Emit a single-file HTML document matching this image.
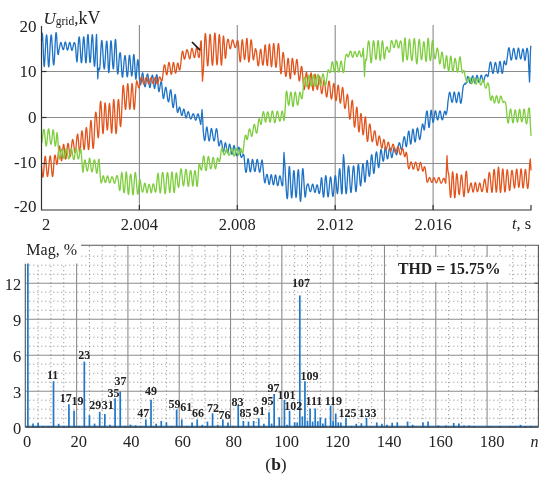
<!DOCTYPE html>
<html><head><meta charset="utf-8"><title>Ugrid and harmonic spectrum</title>
<style>html,body{margin:0;padding:0;background:#fff;}body{width:550px;height:481px;overflow:hidden;}svg{display:block;}</style>
</head><body>
<svg width="550" height="481" viewBox="0 0 550 481">
<rect width="550" height="481" fill="#fff"/>
<g stroke="#8c8c8c" stroke-width="1.1" fill="none"><line x1="41.5" y1="71.5" x2="531.0" y2="71.5"/><line x1="41.5" y1="117.5" x2="531.0" y2="117.5"/><line x1="41.5" y1="163.5" x2="531.0" y2="163.5"/><line x1="139.40" y1="25" x2="139.40" y2="210"/><line x1="237.30" y1="25" x2="237.30" y2="210"/><line x1="335.20" y1="25" x2="335.20" y2="210"/><line x1="433.10" y1="25" x2="433.10" y2="210"/></g>
<polyline fill="none" stroke="#1d72c6" stroke-width="1.3" stroke-linejoin="round" points="41.50,40.87 41.75,36.67 42.00,33.99 42.25,33.24 42.50,34.65 42.75,38.21 43.00,43.57 43.25,50.01 43.50,56.54 43.75,62.08 44.00,65.63 44.25,66.65 44.50,65.17 44.75,61.73 45.00,57.09 45.25,52.02 45.50,47.10 45.75,42.68 46.00,39.01 46.25,36.34 46.50,34.96 46.75,35.23 47.00,37.37 47.25,41.36 47.50,46.79 47.75,52.91 48.00,58.75 48.25,63.38 48.50,66.16 48.75,66.80 49.00,65.37 49.25,62.27 49.50,58.04 49.75,53.25 50.00,48.41 50.25,43.88 50.50,39.96 50.75,37.00 51.00,35.29 51.25,35.00 51.50,36.16 51.75,38.67 52.00,42.30 52.25,46.68 52.50,51.37 52.75,55.88 53.00,59.76 53.25,62.73 53.50,64.55 53.75,65.00 54.00,63.97 54.25,61.44 54.50,57.58 54.75,52.72 55.00,47.36 55.25,42.09 55.50,37.55 55.75,34.28 56.00,32.63 56.25,32.76 56.50,34.58 56.75,37.80 57.00,42.01 57.25,46.62 57.50,50.41 57.75,53.08 58.00,54.48 58.25,54.58 58.50,53.55 58.75,51.72 59.00,49.49 59.25,48.69 59.50,47.60 59.75,46.32 60.00,45.01 60.25,43.82 60.50,42.93 60.75,42.47 61.00,42.49 61.25,42.96 61.50,43.78 61.75,44.82 62.00,45.95 62.25,47.06 62.50,48.05 62.75,48.86 63.00,49.41 63.25,49.63 63.50,49.43 63.75,48.76 64.00,47.66 64.25,46.24 64.50,44.74 64.75,43.42 65.00,42.47 65.25,42.03 65.50,42.16 65.75,42.80 66.00,43.87 66.25,45.20 66.50,46.63 66.75,47.99 67.00,49.10 67.25,49.83 67.50,50.06 67.75,49.78 68.00,49.06 68.25,48.00 68.50,46.75 68.75,45.46 69.00,44.28 69.25,43.32 69.50,42.68 69.75,42.42 70.00,42.61 70.25,43.26 70.50,44.32 70.75,45.68 71.00,47.14 71.25,48.51 71.50,49.59 71.75,50.22 72.00,50.34 72.25,49.97 72.50,49.19 72.75,48.14 73.00,46.95 73.25,45.74 73.50,44.61 73.75,43.66 74.00,42.97 74.25,42.61 74.50,42.64 74.75,43.04 75.00,43.79 75.25,44.76 75.50,46.68 75.75,49.47 76.00,52.82 76.25,56.28 76.50,59.29 76.75,61.31 77.00,61.96 77.25,59.69 77.50,56.45 77.75,52.63 78.00,48.61 78.25,44.76 78.50,41.39 78.75,38.81 79.00,37.27 79.25,36.98 79.50,38.02 79.75,40.40 80.00,43.91 80.25,48.19 80.50,52.73 80.75,56.96 81.00,60.30 81.25,62.32 81.50,62.79 81.75,61.65 82.00,59.10 82.25,55.46 82.50,51.20 82.75,46.79 83.00,42.72 83.25,39.45 83.50,37.40 83.75,36.83 84.00,37.86 84.25,40.40 84.50,44.14 84.75,48.62 85.00,53.25 85.25,57.40 85.50,60.60 85.75,62.53 86.00,62.86 86.25,61.37 86.50,58.05 86.75,53.25 87.00,47.62 87.25,42.09 87.50,37.62 87.75,34.95 88.00,34.47 88.25,36.12 88.50,39.49 88.75,43.96 89.00,48.87 89.25,53.63 89.50,57.78 89.75,60.86 90.00,62.47 90.25,62.38 90.50,60.54 90.75,57.15 91.00,52.61 91.25,47.55 91.50,42.71 91.75,38.71 92.00,35.93 92.25,34.68 92.50,35.20 92.75,37.58 93.00,41.64 93.25,46.93 93.50,52.72 93.75,58.18 94.00,62.55 94.25,65.36 94.50,66.29 94.75,65.28 95.00,62.47 95.25,58.23 95.50,53.03 95.75,47.48 96.00,42.17 96.25,37.67 96.50,34.51 96.75,38.93 97.00,48.96 97.25,59.83 97.50,70.06 97.75,78.75 98.00,75.17 98.25,70.90 98.50,68.74 98.75,68.12 99.00,68.11 99.25,69.80 99.50,69.88 99.75,68.43 100.00,65.69 100.25,61.46 100.50,56.72 100.75,51.93 101.00,47.49 101.25,43.85 101.50,41.41 101.75,40.45 102.00,41.03 102.25,43.03 102.50,46.20 102.75,50.18 103.00,54.56 103.25,58.95 103.50,62.96 103.75,66.20 104.00,68.28 104.25,68.97 104.50,68.20 104.75,66.07 105.00,62.81 105.25,58.80 105.50,54.45 105.75,50.23 106.00,46.54 106.25,43.62 106.50,41.71 106.75,41.14 107.00,42.24 107.25,45.16 107.50,49.77 107.75,55.54 108.00,61.63 108.25,67.01 108.50,70.84 108.75,72.60 109.00,72.08 109.25,69.48 109.50,65.28 109.75,60.10 110.00,54.59 110.25,49.33 110.50,44.86 110.75,41.86 111.00,40.76 111.25,41.64 111.50,44.26 111.75,48.13 112.00,52.67 112.25,57.34 112.50,61.65 112.75,65.21 113.00,67.72 113.25,68.87 113.50,68.39 113.75,66.17 114.00,62.33 114.25,57.31 114.50,51.81 114.75,46.68 115.00,42.65 115.25,40.13 115.50,39.42 115.75,40.62 116.00,43.63 116.25,48.80 116.50,54.73 116.75,60.75 117.00,66.17 117.25,70.42 117.50,73.10 117.75,74.04 118.00,73.32 118.25,71.20 118.50,68.09 118.75,64.45 119.00,60.75 119.25,57.43 119.50,54.85 119.75,53.25 120.00,52.79 120.25,52.76 120.50,53.98 120.75,56.39 121.00,59.77 121.25,63.78 121.50,67.98 121.75,71.87 122.00,74.95 122.25,76.77 122.50,77.14 122.75,76.13 123.00,74.02 123.25,71.20 123.50,68.08 123.75,64.97 124.00,62.07 124.25,59.52 124.50,57.48 124.75,56.11 125.00,55.60 125.25,56.09 125.50,57.65 125.75,60.22 126.00,63.57 126.25,67.30 126.50,70.93 126.75,73.93 127.00,75.98 127.25,76.81 127.50,76.34 127.75,74.61 128.00,71.84 128.25,68.35 128.50,64.56 128.75,60.90 129.00,57.85 129.25,55.87 129.50,55.26 129.75,56.05 130.00,58.07 130.25,60.98 130.50,64.34 130.75,67.78 131.00,70.93 131.25,73.52 131.50,75.32 131.75,76.07 132.00,75.54 132.25,73.61 132.50,70.41 132.75,66.34 133.00,62.08 133.25,58.38 133.50,55.74 133.75,54.51 134.00,54.89 134.25,56.90 134.50,60.32 134.75,64.73 135.00,69.47 135.25,73.85 135.50,77.19 135.75,79.00 136.00,79.04 136.25,77.41 136.50,74.41 136.75,70.52 137.00,66.27 137.25,63.10 137.50,60.75 137.75,59.67 138.00,60.03 138.25,61.76 138.50,64.56 138.75,68.02 139.00,71.75 139.25,75.36 139.50,78.58 139.75,81.22 140.00,83.18 140.25,84.37 140.50,84.78 140.75,84.42 141.00,83.43 141.25,81.35 141.50,78.98 141.75,76.66 142.00,74.71 142.25,73.39 142.50,72.83 142.75,73.08 143.00,74.07 143.25,75.63 143.50,77.58 143.75,79.71 144.00,81.82 144.25,83.73 144.50,85.28 144.75,86.31 145.00,86.71 145.25,86.47 145.50,85.61 145.75,84.21 146.00,82.43 146.25,80.44 146.50,78.45 146.75,76.65 147.00,75.21 147.25,74.27 147.50,73.91 147.75,74.20 148.00,75.14 148.25,76.67 148.50,78.67 148.75,80.91 149.00,83.18 149.25,85.19 149.50,86.69 149.75,87.48 150.00,87.48 150.25,86.75 150.50,85.44 150.75,83.74 151.00,81.87 151.25,80.01 151.50,78.30 151.75,76.85 152.00,75.77 152.25,75.18 152.50,75.20 152.75,75.93 153.00,77.39 153.25,79.47 153.50,81.92 153.75,84.38 154.00,86.47 154.25,87.90 154.50,88.51 154.75,88.23 155.00,87.09 155.25,85.27 155.50,83.00 155.75,80.56 156.00,78.25 156.25,76.34 156.50,75.08 156.75,74.61 157.00,75.03 157.25,76.64 157.50,78.96 157.75,81.77 158.00,84.73 158.25,87.52 158.50,89.77 158.75,91.17 159.00,91.60 159.25,91.13 159.50,89.96 159.75,88.36 160.00,86.61 160.25,84.92 160.50,83.46 160.75,82.37 161.00,81.77 161.25,81.80 161.50,82.57 161.75,84.13 162.00,86.41 162.25,89.19 162.50,92.15 162.75,94.90 163.00,97.08 163.25,98.26 163.50,98.53 163.75,97.95 164.00,96.72 164.25,95.06 164.50,93.22 164.75,91.41 165.00,89.76 165.25,88.42 165.50,87.56 165.75,87.29 166.00,87.66 166.25,88.64 166.50,90.11 166.75,91.96 167.00,93.99 167.25,96.04 167.50,97.93 167.75,99.55 168.00,100.82 168.25,101.64 168.50,101.89 168.75,101.49 169.00,100.39 169.25,98.68 169.50,96.55 169.75,94.30 170.00,92.28 170.25,90.75 170.50,89.89 170.75,89.81 171.00,90.55 171.25,92.07 171.50,94.23 171.75,96.85 172.00,99.65 172.25,102.38 172.50,104.73 172.75,106.49 173.00,107.46 173.25,107.54 173.50,106.75 173.75,105.18 174.00,103.02 174.25,100.55 174.50,98.09 174.75,95.97 175.00,94.51 175.25,94.51 175.50,95.50 175.75,97.34 176.00,99.78 176.25,102.53 176.50,105.29 176.75,107.84 177.00,109.97 177.25,111.48 177.50,112.27 177.75,112.36 178.00,111.87 178.25,111.00 178.50,109.98 178.75,109.03 179.00,108.33 179.25,107.48 179.50,107.13 179.75,107.33 180.00,108.03 180.25,109.12 180.50,110.44 180.75,111.82 181.00,113.11 181.25,114.19 181.50,114.99 181.75,115.42 182.00,115.41 182.25,114.91 182.50,113.96 182.75,112.70 183.00,111.36 183.25,110.20 183.50,109.39 183.75,109.05 184.00,109.23 184.25,109.91 184.50,111.01 184.75,112.40 185.00,113.92 185.25,115.37 185.50,116.59 185.75,117.47 186.00,117.91 186.25,117.90 186.50,117.46 186.75,116.65 187.00,115.60 187.25,114.44 187.50,113.34 187.75,112.45 188.00,111.89 188.25,111.75 188.50,112.04 188.75,112.68 189.00,113.58 189.25,114.62 189.50,115.70 189.75,116.73 190.00,117.66 190.25,118.34 190.50,118.78 190.75,118.96 191.00,118.85 191.25,118.47 191.50,117.88 191.75,117.14 192.00,116.32 192.25,115.52 192.50,114.81 192.75,114.25 193.00,113.89 193.25,113.78 193.50,113.93 193.75,114.38 194.00,115.09 194.25,116.01 194.50,117.04 194.75,118.07 195.00,118.97 195.25,119.64 195.50,120.04 195.75,120.11 196.00,119.84 196.25,119.24 196.50,118.38 196.75,117.35 197.00,116.27 197.25,115.27 197.50,114.47 197.75,113.96 198.00,113.81 198.25,114.04 198.50,114.65 198.75,115.60 199.00,116.76 199.25,118.02 199.50,119.22 199.75,120.19 200.00,120.76 200.25,122.50 200.50,123.73 200.75,124.45 201.00,122.24 201.25,119.12 201.50,115.93 201.75,112.78 202.00,109.68 202.25,112.84 202.50,116.34 202.75,120.58 203.00,126.06 203.25,131.11 203.50,133.30 203.75,135.60 204.00,137.67 204.25,139.28 204.50,140.27 204.75,140.50 205.00,139.90 205.25,138.48 205.50,136.40 205.75,133.91 206.00,131.37 206.25,129.17 206.50,127.64 206.75,127.00 207.00,127.28 207.25,128.39 207.50,130.13 207.75,132.23 208.00,134.46 208.25,136.60 208.50,138.46 208.75,139.88 209.00,140.72 209.25,140.87 209.50,140.33 209.75,139.14 210.00,137.42 210.25,135.38 210.50,133.24 210.75,131.26 211.00,129.69 211.25,128.75 211.50,128.53 211.75,129.02 212.00,130.09 212.25,131.59 212.50,133.30 212.75,135.07 213.00,136.76 213.25,138.27 213.50,139.51 213.75,140.42 214.00,140.91 214.25,140.87 214.50,140.25 214.75,139.04 215.00,137.33 215.25,135.29 215.50,133.19 215.75,131.31 216.00,129.84 216.25,128.91 216.50,128.63 216.75,129.06 217.00,130.19 217.25,131.95 217.50,134.17 217.75,136.62 218.00,139.03 218.25,141.80 218.50,143.95 218.75,145.34 219.00,145.94 219.25,145.83 219.50,145.13 219.75,144.05 220.00,142.82 220.25,141.69 220.50,140.86 220.75,140.52 221.00,140.79 221.25,140.78 221.50,141.43 221.75,142.68 222.00,144.39 222.25,146.38 222.50,148.39 222.75,150.17 223.00,151.48 223.25,152.14 223.50,152.08 223.75,151.33 224.00,150.02 224.25,148.37 224.50,146.59 224.75,144.91 225.00,143.58 225.25,142.82 225.50,142.76 225.75,143.40 226.00,144.59 226.25,146.14 226.50,147.84 226.75,149.50 227.00,150.95 227.25,152.06 227.50,152.71 227.75,152.81 228.00,152.28 228.25,151.15 228.50,149.55 228.75,147.74 229.00,146.03 229.25,144.74 229.50,144.08 229.75,144.15 230.00,144.89 230.25,146.14 230.50,147.69 230.75,149.33 231.00,150.90 231.25,152.29 231.50,153.38 231.75,154.10 232.00,154.35 232.25,154.05 232.50,153.19 232.75,151.85 233.00,150.20 233.25,148.49 233.50,147.00 233.75,145.96 234.00,145.54 234.25,145.77 234.50,146.55 234.75,147.74 235.00,149.15 235.25,150.61 235.50,152.01 235.75,153.27 236.00,154.34 236.25,155.16 236.50,155.67 236.75,155.77 237.00,155.41 237.25,154.57 237.50,153.31 237.75,151.78 238.00,150.18 238.25,148.76 238.50,147.73 238.75,147.23 239.00,147.31 239.25,147.94 239.50,149.00 239.75,150.33 240.00,151.79 240.25,153.26 240.50,154.62 240.75,155.80 241.00,156.71 241.25,157.24 241.50,157.36 241.75,157.02 242.00,156.25 242.25,156.14 242.50,155.70 242.75,155.08 243.00,154.50 243.25,154.17 243.50,154.29 243.75,154.99 244.00,156.35 244.25,158.38 244.50,160.99 244.75,164.02 245.00,167.25 245.25,169.29 245.50,170.94 245.75,172.03 246.00,172.43 246.25,172.02 246.50,170.80 246.75,168.86 247.00,166.41 247.25,163.80 247.50,161.42 247.75,159.65 248.00,158.77 248.25,158.87 248.50,159.87 248.75,161.56 249.00,163.65 249.25,165.87 249.50,167.99 249.75,169.82 250.00,171.17 250.25,171.87 250.50,171.82 250.75,171.01 251.00,169.49 251.25,167.45 251.50,165.15 251.75,162.91 252.00,161.04 252.25,159.83 252.50,159.43 252.75,159.84 253.00,160.96 253.25,162.58 253.50,164.47 253.75,166.41 254.00,168.22 254.25,169.75 254.50,170.86 254.75,171.44 255.00,171.41 255.25,170.74 255.50,169.50 255.75,167.79 256.00,165.81 256.25,163.80 256.50,162.00 256.75,160.61 257.00,159.73 257.25,159.47 257.50,159.85 257.75,160.85 258.00,162.38 258.25,164.29 258.50,166.38 258.75,168.42 259.00,170.20 259.25,171.50 259.50,172.19 259.75,172.21 260.00,171.59 260.25,170.43 260.50,168.87 260.75,167.09 261.00,165.24 261.25,163.48 261.50,161.94 261.75,160.72 262.00,159.92 262.25,160.87 262.50,162.40 262.75,164.50 263.00,167.09 263.25,170.01 263.50,173.04 263.75,175.92 264.00,178.42 264.25,180.39 264.50,181.76 264.75,182.53 265.00,182.80 265.25,181.78 265.50,180.46 265.75,178.98 266.00,177.51 266.25,176.19 266.50,175.15 266.75,174.50 267.00,174.33 267.25,174.71 267.50,175.64 267.75,177.05 268.00,178.79 268.25,180.63 268.50,182.30 268.75,183.59 269.00,184.31 269.25,184.39 269.50,183.80 269.75,182.64 270.00,181.06 270.25,179.28 270.50,177.53 270.75,176.04 271.00,175.05 271.25,174.71 271.50,175.06 271.75,176.03 272.00,177.46 272.25,179.17 272.50,180.92 272.75,182.51 273.00,183.77 273.25,184.56 273.50,184.76 273.75,184.32 274.00,183.24 274.25,181.63 274.50,179.74 274.75,177.85 275.00,176.28 275.25,175.27 275.50,174.97 275.75,175.38 276.00,176.44 276.25,177.96 276.50,179.75 276.75,181.58 277.00,183.26 277.25,184.58 277.50,185.43 277.75,185.68 278.00,185.32 278.25,184.38 278.50,182.97 278.75,181.27 279.00,179.49 279.25,177.87 279.50,176.63 279.75,175.95 280.00,175.89 280.25,176.37 280.50,177.34 280.75,178.67 281.00,180.18 281.25,181.73 281.50,183.18 281.75,184.42 282.00,185.31 282.25,185.78 282.50,185.74 282.75,185.20 283.00,178.88 283.25,171.88 283.50,164.70 283.75,158.04 284.00,152.46 284.25,156.76 284.50,160.05 284.75,163.07 285.00,166.90 285.25,172.49 285.50,176.24 285.75,180.60 286.00,185.13 286.25,189.43 286.50,193.17 286.75,196.14 287.00,198.09 287.25,198.71 287.50,197.73 287.75,194.96 288.00,190.53 288.25,184.87 288.50,178.75 288.75,173.11 289.00,168.85 289.25,166.62 289.50,166.67 289.75,168.83 290.00,172.62 290.25,177.37 290.50,182.46 290.75,187.39 291.00,191.81 291.25,195.32 291.50,197.46 291.75,197.93 292.00,196.67 292.25,193.81 292.50,189.71 292.75,184.87 293.00,179.91 293.25,175.48 293.50,172.21 293.75,170.55 294.00,170.72 294.25,172.64 294.50,175.99 294.75,180.28 295.00,184.97 295.25,189.49 295.50,193.33 295.75,196.05 296.00,197.32 296.25,196.94 296.50,194.91 296.75,191.42 297.00,186.91 297.25,181.96 297.50,177.28 297.75,173.46 298.00,170.80 298.25,169.63 298.50,170.19 298.75,172.57 299.00,176.64 299.25,181.95 299.50,187.78 299.75,193.29 300.00,197.70 300.25,200.52 300.50,201.46 300.75,200.44 301.00,197.64 301.25,193.41 301.50,188.25 301.75,182.73 302.00,177.46 302.25,172.99 302.50,169.92 302.75,168.62 303.00,169.15 303.25,171.28 303.50,174.62 303.75,178.69 304.00,183.04 304.25,187.30 304.50,191.18 304.75,194.45 305.00,196.82 305.25,197.16 305.50,196.24 305.75,194.38 306.00,191.99 306.25,189.54 306.50,187.45 306.75,186.08 307.00,185.62 307.25,184.75 307.50,184.15 307.75,183.86 308.00,183.93 308.25,184.35 308.50,185.10 308.75,186.11 309.00,187.28 309.25,188.50 309.50,189.65 309.75,190.62 310.00,191.32 310.25,191.69 310.50,191.67 310.75,191.26 311.00,190.47 311.25,189.37 311.50,188.09 311.75,186.78 312.00,185.60 312.25,184.71 312.50,184.23 312.75,184.22 313.00,184.68 313.25,185.55 313.50,186.73 313.75,188.07 314.00,189.43 314.25,190.66 314.50,191.64 314.75,192.24 315.00,192.38 315.25,192.05 315.50,191.26 315.75,190.10 316.00,188.74 316.25,187.35 316.50,186.13 316.75,185.24 317.00,184.79 317.25,184.86 317.50,185.48 317.75,186.58 318.00,188.05 318.25,189.69 318.50,191.25 318.75,192.51 319.00,193.29 319.25,193.49 319.50,193.10 319.75,192.19 320.00,190.89 320.25,189.04 320.50,186.47 320.75,183.52 321.00,180.71 321.25,178.62 321.50,177.72 321.75,178.26 322.00,180.21 322.25,183.91 322.50,187.77 322.75,191.37 323.00,194.36 323.25,196.37 323.50,197.16 323.75,196.64 324.00,194.87 324.25,192.06 324.50,188.55 324.75,184.78 325.00,181.21 325.25,178.29 325.50,176.36 325.75,175.63 326.00,176.16 326.25,177.87 326.50,180.51 326.75,183.79 327.00,187.32 327.25,190.74 327.50,193.67 327.75,195.77 328.00,196.77 328.25,196.62 328.50,195.37 328.75,193.22 329.00,190.45 329.25,187.37 329.50,184.28 329.75,181.45 330.00,179.14 330.25,177.59 330.50,176.96 330.75,177.33 331.00,178.68 331.25,180.89 331.50,183.74 331.75,186.93 332.00,190.10 332.25,192.89 332.50,195.00 332.75,196.22 333.00,196.39 333.25,195.46 333.50,193.53 333.75,190.76 334.00,187.48 334.25,184.04 334.50,180.86 334.75,178.33 335.00,176.72 335.25,175.66 335.50,175.82 335.75,177.19 336.00,179.60 336.25,182.72 336.50,186.14 336.75,189.37 337.00,191.94 337.25,193.43 337.50,193.56 337.75,192.21 338.00,189.45 338.25,185.90 338.50,181.70 338.75,177.41 339.00,173.56 339.25,170.61 339.50,168.90 339.75,168.67 340.00,170.02 340.25,172.87 340.50,176.89 340.75,181.54 341.00,186.13 341.25,190.00 341.50,192.72 341.75,193.98 342.00,193.53 342.25,191.32 342.50,182.06 342.75,172.15 343.00,164.11 343.25,158.39 343.50,154.76 343.75,157.09 344.00,159.24 344.25,162.38 344.50,167.44 344.75,174.16 345.00,178.93 345.25,183.74 345.50,188.04 345.75,191.36 346.00,193.31 346.25,193.68 346.50,192.44 346.75,189.77 347.00,185.97 347.25,181.50 347.50,176.85 347.75,172.55 348.00,169.05 348.25,166.73 348.50,165.81 348.75,166.35 349.00,168.26 349.25,171.32 349.50,175.18 349.75,179.44 350.00,183.66 350.25,187.42 350.50,190.33 350.75,192.09 351.00,192.54 351.25,191.66 351.50,189.59 351.75,186.56 352.00,182.89 352.25,178.92 352.50,175.01 352.75,171.51 353.00,168.69 353.25,166.77 353.50,165.95 353.75,166.34 354.00,167.97 354.25,170.73 354.50,174.40 354.75,178.63 355.00,182.94 355.25,186.71 355.50,189.62 355.75,191.32 356.00,191.63 356.25,190.53 356.50,188.15 356.75,184.75 357.00,180.69 357.25,176.37 357.50,172.20 357.75,168.55 358.00,165.85 358.25,164.40 358.50,164.35 358.75,165.66 359.00,168.12 359.25,171.42 359.50,175.14 359.75,178.86 360.00,182.17 360.25,184.59 360.50,185.74 360.75,185.47 361.00,183.87 361.25,181.22 361.50,177.92 361.75,174.38 362.00,170.95 362.25,167.95 362.50,165.63 362.75,164.23 363.00,163.95 363.25,164.92 363.50,167.10 363.75,170.24 364.00,173.89 364.25,177.37 364.50,180.17 364.75,181.81 365.00,182.04 365.25,180.85 365.50,178.45 365.75,175.20 366.00,171.53 366.25,167.86 366.50,164.57 366.75,162.05 367.00,160.59 367.25,160.35 367.50,161.29 367.75,163.22 368.00,165.83 368.25,168.75 368.50,171.57 368.75,173.95 369.00,175.63 369.25,176.42 369.50,176.15 369.75,174.76 370.00,172.33 370.25,169.08 370.50,165.38 370.75,161.73 371.00,158.58 371.25,156.22 371.50,154.86 371.75,154.63 372.00,155.58 372.25,157.59 372.50,160.44 372.75,163.78 373.00,167.17 373.25,170.14 373.50,172.28 373.75,173.29 374.00,173.05 374.25,171.64 374.50,169.33 374.75,166.43 375.00,163.29 375.25,160.18 375.50,157.33 375.75,154.92 376.00,153.12 376.25,152.07 376.50,151.88 376.75,152.61 377.00,154.22 377.25,156.57 377.50,159.37 377.75,162.26 378.00,164.81 378.25,166.68 378.50,167.64 378.75,167.57 379.00,166.51 379.25,164.59 379.50,162.05 379.75,159.18 380.00,156.26 380.25,153.57 380.50,151.38 380.75,149.96 381.00,149.47 381.25,149.87 381.50,151.04 381.75,152.74 382.00,154.70 382.25,156.68 382.50,158.45 382.75,159.87 383.00,160.82 383.25,161.19 383.50,160.82 383.75,159.62 384.00,157.59 384.25,155.11 384.50,152.36 384.75,149.84 385.00,147.96 385.25,147.01 385.50,147.09 385.75,148.09 386.00,149.75 386.25,151.79 386.50,153.91 386.75,155.88 387.00,157.50 387.25,158.56 387.50,158.91 387.75,158.50 388.00,157.43 388.25,155.84 388.50,153.97 388.75,152.05 389.00,150.31 389.25,148.93 389.50,148.02 389.75,147.68 390.00,147.98 390.25,148.94 390.50,150.47 390.75,152.35 391.00,154.30 391.25,156.00 391.50,157.18 391.75,157.65 392.00,157.40 392.25,156.54 392.50,155.26 392.75,153.78 393.00,152.27 393.25,150.87 393.50,149.64 393.75,148.66 394.00,147.99 394.25,147.68 394.50,147.79 394.75,148.34 395.00,149.28 395.25,150.32 395.50,151.56 395.75,152.81 396.00,153.86 396.25,154.56 396.50,154.77 396.75,154.47 397.00,153.69 397.25,152.52 397.50,151.09 397.75,149.52 398.00,147.92 398.25,146.40 398.50,145.03 398.75,143.92 399.00,143.13 399.25,142.75 399.50,142.80 399.75,143.27 400.00,144.13 400.25,145.26 400.50,146.55 400.75,147.82 401.00,148.90 401.25,149.65 401.50,149.95 401.75,149.74 402.00,149.01 402.25,147.81 402.50,146.26 402.75,144.46 403.00,142.59 403.25,140.78 403.50,139.19 403.75,137.90 404.00,137.03 404.25,136.68 404.50,136.95 404.75,137.87 405.00,139.36 405.25,141.25 405.50,143.25 405.75,145.01 406.00,146.23 406.25,146.70 406.50,146.32 406.75,145.15 407.00,143.34 407.25,141.12 407.50,138.73 407.75,136.38 408.00,134.29 408.25,132.60 408.50,131.48 408.75,131.09 409.00,131.54 409.25,133.05 409.50,135.26 409.75,137.86 410.00,140.44 410.25,142.53 410.50,143.83 410.75,144.12 411.00,143.41 411.25,141.82 411.50,139.62 411.75,137.09 412.00,134.54 412.25,132.24 412.50,130.43 412.75,129.34 413.00,129.10 413.25,129.73 413.50,131.14 413.75,133.14 414.00,135.47 414.25,137.81 414.50,139.84 414.75,141.29 415.00,141.95 415.25,141.75 415.50,140.74 415.75,139.07 416.00,136.94 416.25,134.61 416.50,132.33 416.75,130.33 417.00,128.84 417.25,128.05 417.50,128.00 417.75,128.67 418.00,129.93 418.25,131.61 418.50,133.49 418.75,135.38 419.00,137.08 419.25,138.42 419.50,139.26 419.75,139.49 420.00,139.08 420.25,138.06 420.50,136.52 420.75,134.61 421.00,132.52 421.25,130.48 421.50,128.70 421.75,127.29 422.00,126.38 422.25,124.87 422.50,124.04 422.75,123.97 423.00,124.62 423.25,125.83 423.50,127.32 423.75,128.75 424.00,129.74 424.25,129.94 424.50,129.16 424.75,127.39 425.00,124.75 425.25,122.64 425.50,120.25 425.75,117.85 426.00,115.61 426.25,113.68 426.50,112.17 426.75,111.21 427.00,111.00 427.25,111.69 427.50,113.35 427.75,115.88 428.00,118.97 428.25,122.13 428.50,124.85 428.75,126.72 429.00,127.49 429.25,127.07 429.50,125.54 429.75,123.14 430.00,120.19 430.25,117.07 430.50,114.14 430.75,111.80 431.00,110.42 431.25,110.21 431.50,111.13 431.75,112.98 432.00,115.46 432.25,117.86 432.50,119.94 432.75,121.47 433.00,122.28 433.25,122.31 433.50,121.56 433.75,120.15 434.00,118.28 434.25,116.64 434.50,114.81 434.75,113.08 435.00,111.71 435.25,110.89 435.50,110.74 435.75,111.24 436.00,112.29 436.25,113.72 436.50,115.32 436.75,116.92 437.00,118.32 437.25,119.38 437.50,119.95 437.75,119.97 438.00,119.45 438.25,118.45 438.50,117.11 438.75,115.58 439.00,114.04 439.25,112.68 439.50,111.64 439.75,111.02 440.00,110.88 440.25,111.25 440.50,112.08 440.75,113.29 441.00,114.74 441.25,116.27 441.50,117.70 441.75,118.87 442.00,119.63 442.25,119.89 442.50,119.65 442.75,118.99 443.00,118.00 443.25,116.82 443.50,115.57 443.75,114.35 444.00,113.24 444.25,112.32 444.50,111.63 444.75,111.26 445.00,111.24 445.25,111.61 445.50,112.38 445.75,113.50 446.00,114.85 446.25,114.13 446.50,113.31 446.75,112.26 447.00,110.90 447.25,109.16 447.50,106.96 447.75,104.26 448.00,101.08 448.25,99.66 448.50,97.95 448.75,96.14 449.00,94.46 449.25,93.14 449.50,92.36 449.75,92.23 450.00,92.71 450.25,93.71 450.50,95.07 450.75,96.60 451.00,98.15 451.25,99.59 451.50,100.84 451.75,101.78 452.00,102.30 452.25,102.30 452.50,101.73 452.75,100.60 453.00,98.99 453.25,97.10 453.50,95.20 453.75,93.58 454.00,92.47 454.25,92.03 454.50,92.31 454.75,93.24 455.00,94.67 455.25,96.41 455.50,98.24 455.75,99.96 456.00,101.36 456.25,102.23 456.50,102.46 456.75,102.02 457.00,101.00 457.25,99.55 457.50,97.87 457.75,96.17 458.00,94.62 458.25,93.38 458.50,92.54 458.75,92.22 459.00,92.54 459.25,93.56 459.50,95.20 459.75,97.28 460.00,99.47 460.25,101.41 460.50,102.76 460.75,103.31 461.00,103.02 461.25,102.04 461.50,100.59 461.75,98.94 462.00,97.27 462.25,94.41 462.50,91.83 462.75,89.61 463.00,87.81 463.25,86.45 463.50,85.51 463.75,84.95 464.00,84.64 464.25,84.46 464.50,84.25 464.75,83.85 465.00,83.18 465.25,83.73 465.50,84.01 465.75,83.96 466.00,83.54 466.25,82.75 466.50,81.64 466.75,80.34 467.00,79.00 467.25,77.81 467.50,76.93 467.75,76.47 468.00,76.46 468.25,76.88 468.50,77.61 468.75,78.56 469.00,79.58 469.25,80.60 469.50,81.53 469.75,82.32 470.00,82.92 470.25,83.25 470.50,83.27 470.75,82.92 471.00,82.20 471.25,81.15 471.50,79.88 471.75,78.54 472.00,77.35 472.25,76.44 472.50,75.93 472.75,75.89 473.00,76.30 473.25,77.10 473.50,78.17 473.75,79.39 474.00,80.61 474.25,81.69 474.50,82.52 474.75,82.98 475.00,83.00 475.25,82.56 475.50,81.69 475.75,80.47 476.00,79.07 476.25,77.67 476.50,76.47 476.75,75.65 477.00,75.32 477.25,75.51 477.50,76.19 477.75,77.24 478.00,78.50 478.25,79.82 478.50,81.01 478.75,81.90 479.00,82.35 479.25,82.29 479.50,81.75 479.75,80.83 480.00,79.67 480.25,78.42 480.50,77.23 480.75,76.23 481.00,75.52 481.25,75.19 481.50,75.29 481.75,75.85 482.00,76.81 482.25,78.04 482.50,79.37 482.75,80.57 483.00,81.46 483.25,81.86 483.50,81.76 483.75,81.20 484.00,80.33 484.25,79.29 484.50,78.23 484.75,77.23 485.00,76.35 485.25,75.65 485.50,75.20 485.75,75.04 486.00,75.21 486.25,74.76 486.50,74.71 486.75,75.00 487.00,75.51 487.25,76.06 487.50,76.46 487.75,76.56 488.00,76.21 488.25,75.34 488.50,73.91 488.75,71.96 489.00,69.59 489.25,67.78 489.50,65.98 489.75,64.37 490.00,63.10 490.25,62.29 490.50,62.00 490.75,62.28 491.00,63.11 491.25,64.41 491.50,66.06 491.75,67.90 492.00,69.73 492.25,71.37 492.50,72.63 492.75,73.35 493.00,73.47 493.25,72.99 493.50,72.00 493.75,70.62 494.00,69.01 494.25,67.33 494.50,65.71 494.75,64.30 495.00,63.21 495.25,62.58 495.50,62.48 495.75,62.92 496.00,63.89 496.25,65.29 496.50,66.97 496.75,68.75 497.00,70.41 497.25,71.77 497.50,72.71 497.75,73.11 498.00,72.89 498.25,72.02 498.50,70.56 498.75,68.64 499.00,66.52 499.25,64.48 499.50,62.81 499.75,61.75 500.00,61.43 500.25,61.87 500.50,63.01 500.75,64.68 501.00,66.66 501.25,68.72 501.50,70.60 501.75,72.11 502.00,73.10 502.25,73.42 502.50,73.00 502.75,71.82 503.00,69.98 503.25,67.72 503.50,65.34 503.75,63.21 504.00,61.64 504.25,60.84 504.50,60.89 504.75,61.76 505.00,63.31 505.25,63.67 505.50,64.19 505.75,64.63 506.00,64.74 506.25,64.35 506.50,63.33 506.75,61.62 507.00,59.20 507.25,57.86 507.50,56.02 507.75,53.90 508.00,51.77 508.25,49.90 508.50,48.52 508.75,47.79 509.00,47.77 509.25,48.45 509.50,49.73 509.75,51.45 510.00,53.42 510.25,55.42 510.50,57.26 510.75,58.75 511.00,59.71 511.25,60.06 511.50,59.76 511.75,58.87 512.00,57.50 512.25,55.79 512.50,53.92 512.75,52.09 513.00,50.45 513.25,49.20 513.50,48.49 513.75,48.39 514.00,48.87 514.25,49.87 514.50,51.25 514.75,52.86 515.00,54.53 515.25,56.13 515.50,57.52 515.75,58.59 516.00,59.24 516.25,59.39 516.50,58.97 516.75,57.96 517.00,56.42 517.25,54.51 517.50,52.46 517.75,50.55 518.00,49.06 518.25,48.21 518.50,48.09 518.75,48.70 519.00,49.89 519.25,51.49 519.50,53.28 519.75,55.06 520.00,56.70 520.25,58.00 520.50,58.79 520.75,58.96 521.00,58.48 521.25,57.45 521.50,56.01 521.75,54.34 522.00,52.66 522.25,51.16 522.50,49.95 522.75,49.13 523.00,48.86 523.25,49.29 523.50,50.50 523.75,52.43 524.00,54.78 524.25,57.14 524.50,59.04 524.75,60.18 525.00,60.40 525.25,59.70 525.50,58.26 525.75,56.32 526.00,54.18 526.25,52.08 526.50,50.27 526.75,48.94 527.00,48.28 527.25,48.37 527.50,49.24 527.75,50.79 528.00,52.83 528.25,54.98 528.50,61.11 528.75,67.26 529.00,72.51 529.25,77.29 529.50,82.08 529.75,76.88 530.00,66.79 530.25,57.38 530.50,50.45 530.75,46.75 531.00,45.74"/>
<polyline fill="none" stroke="#e2541c" stroke-width="1.3" stroke-linejoin="round" points="41.50,165.11 41.75,168.29 42.00,171.43 42.25,174.16 42.50,176.14 42.75,177.13 43.00,177.02 43.25,175.82 43.50,173.66 43.75,170.81 44.00,167.60 44.25,164.32 44.50,161.24 44.75,158.67 45.00,156.93 45.25,156.27 45.50,156.86 45.75,158.69 46.00,161.53 46.25,165.02 46.50,168.68 46.75,171.99 47.00,174.52 47.25,176.02 47.50,176.43 47.75,175.85 48.00,174.45 48.25,172.45 48.50,170.04 48.75,167.36 49.00,164.55 49.25,161.80 49.50,159.33 49.75,157.39 50.00,156.21 50.25,156.01 50.50,156.88 50.75,158.77 51.00,161.49 51.25,164.70 51.50,168.04 51.75,171.18 52.00,173.82 52.25,175.66 52.50,176.50 52.75,176.21 53.00,174.77 53.25,172.30 53.50,169.06 53.75,165.38 54.00,161.73 54.25,158.59 54.50,156.34 54.75,155.20 55.00,155.19 55.25,155.47 55.50,156.53 55.75,158.11 56.00,159.98 56.25,161.88 56.50,163.44 56.75,164.36 57.00,164.43 57.25,163.57 57.50,161.82 57.75,159.32 58.00,156.29 58.25,153.92 58.50,151.45 58.75,149.17 59.00,147.34 59.25,146.23 59.50,146.03 59.75,146.82 60.00,148.50 60.25,150.85 60.50,153.50 60.75,156.14 61.00,158.45 61.25,160.12 61.50,160.84 61.75,160.43 62.00,158.87 62.25,156.36 62.50,153.29 62.75,150.15 63.00,147.38 63.25,145.36 63.50,144.34 63.75,144.44 64.00,145.59 64.25,147.62 64.50,150.26 64.75,153.13 65.00,155.78 65.25,157.81 65.50,158.96 65.75,159.15 66.00,158.45 66.25,156.86 66.50,154.75 66.75,152.31 67.00,149.76 67.25,147.35 67.50,145.33 67.75,143.92 68.00,143.30 68.25,143.57 68.50,144.68 68.75,146.47 69.00,148.68 69.25,151.00 69.50,153.17 69.75,154.96 70.00,156.14 70.25,156.54 70.50,156.06 70.75,154.73 71.00,152.66 71.25,150.09 71.50,147.29 71.75,144.60 72.00,142.29 72.25,140.59 72.50,139.65 72.75,139.49 73.00,140.07 73.25,141.29 73.50,143.00 73.75,145.02 74.00,147.14 74.25,149.16 74.50,150.86 74.75,152.04 75.00,152.53 75.25,152.40 75.50,151.43 75.75,149.68 76.00,147.29 76.25,144.53 76.50,141.63 76.75,138.87 77.00,136.51 77.25,134.84 77.50,134.11 77.75,134.47 78.00,135.95 78.25,138.41 78.50,141.53 78.75,144.91 79.00,148.08 79.25,150.60 79.50,152.15 79.75,152.53 80.00,151.69 80.25,149.73 80.50,146.85 80.75,143.33 81.00,139.54 81.25,135.99 81.50,133.16 81.75,131.39 82.00,130.86 82.25,131.59 82.50,133.44 82.75,136.17 83.00,139.48 83.25,142.95 83.50,146.05 83.75,148.35 84.00,149.51 84.25,149.41 84.50,148.05 84.75,145.63 85.00,142.39 85.25,138.70 85.50,134.96 85.75,131.60 86.00,129.03 86.25,127.61 86.50,127.55 86.75,128.90 87.00,131.51 87.25,135.01 87.50,138.93 87.75,142.78 88.00,146.11 88.25,148.49 88.50,149.57 88.75,149.14 89.00,147.21 89.25,143.95 89.50,139.75 89.75,135.11 90.00,130.46 90.25,126.25 90.50,122.92 90.75,120.89 91.00,120.47 91.25,121.80 91.50,124.76 91.75,129.02 92.00,134.02 92.25,138.74 92.50,142.98 92.75,146.23 93.00,148.12 93.25,148.44 93.50,147.13 93.75,144.31 94.00,140.21 94.25,135.18 94.50,129.64 94.75,124.15 95.00,119.28 95.25,115.50 95.50,113.09 95.75,112.13 96.00,112.56 96.25,114.20 96.50,116.80 96.75,120.11 97.00,123.83 97.25,127.71 97.50,131.45 97.75,134.66 98.00,136.93 98.25,137.82 98.50,137.02 98.75,134.37 99.00,130.01 99.25,124.37 99.50,118.09 99.75,111.91 100.00,106.53 100.25,103.08 100.50,101.34 100.75,101.41 101.00,103.16 101.25,106.32 101.50,110.55 101.75,115.49 102.00,120.69 102.25,125.62 102.50,129.73 102.75,132.50 103.00,133.51 103.25,132.53 103.50,129.58 103.75,124.98 104.00,119.34 104.25,113.47 104.50,108.32 104.75,104.65 105.00,102.89 105.25,103.09 105.50,104.99 105.75,108.22 106.00,112.36 106.25,117.04 106.50,121.73 106.75,125.81 107.00,128.70 107.25,130.01 107.50,129.55 107.75,127.38 108.00,123.80 108.25,119.27 108.50,114.43 108.75,109.87 109.00,106.22 109.25,103.96 109.50,103.43 109.75,104.74 110.00,107.73 110.25,111.97 110.50,116.86 110.75,121.91 111.00,126.65 111.25,130.50 111.50,132.82 111.75,133.04 112.00,130.91 112.25,126.63 112.50,120.86 112.75,114.55 113.00,108.59 113.25,103.77 113.50,100.64 113.75,99.53 114.00,100.46 114.25,103.22 114.50,107.45 114.75,112.65 115.00,118.28 115.25,123.72 115.50,128.41 115.75,131.81 116.00,133.51 116.25,133.31 116.50,131.17 116.75,127.35 117.00,122.27 117.25,116.53 117.50,110.83 117.75,105.82 118.00,102.05 118.25,99.88 118.50,99.49 118.75,100.85 119.00,103.76 119.25,107.90 119.50,112.86 119.75,118.15 120.00,123.16 120.25,125.55 120.50,126.52 120.75,125.91 121.00,123.73 121.25,120.15 121.50,115.48 121.75,110.07 122.00,104.31 122.25,98.62 122.50,93.42 122.75,89.09 123.00,85.91 123.25,85.30 123.50,86.05 123.75,88.11 124.00,91.26 124.25,95.13 124.50,99.26 124.75,103.18 125.00,106.43 125.25,108.62 125.50,109.44 125.75,108.77 126.00,106.63 126.25,103.29 126.50,99.13 126.75,94.68 127.00,90.42 127.25,86.85 127.50,84.44 127.75,83.58 128.00,84.46 128.25,87.05 128.50,91.02 128.75,95.81 129.00,100.69 129.25,104.90 129.50,107.84 129.75,109.18 130.00,108.85 130.25,107.03 130.50,104.03 130.75,100.20 131.00,95.95 131.25,91.69 131.50,87.88 131.75,85.00 132.00,83.52 132.25,83.76 132.50,85.79 132.75,89.37 133.00,93.97 133.25,98.89 133.50,103.40 133.75,106.90 134.00,109.00 134.25,109.49 134.50,108.42 134.75,106.00 135.00,102.55 135.25,98.45 135.50,94.11 135.75,90.00 136.00,86.54 136.25,83.19 136.50,81.31 136.75,80.77 137.00,81.27 137.25,82.40 137.50,83.68 137.75,84.67 138.00,85.03 138.25,86.59 138.50,87.57 138.75,87.91 139.00,87.63 139.25,86.83 139.50,85.62 139.75,84.15 140.00,82.56 140.25,80.98 140.50,79.54 140.75,78.35 141.00,77.50 141.25,77.04 141.50,76.99 141.75,77.32 142.00,77.96 142.25,78.84 142.50,79.91 142.75,81.06 143.00,82.15 143.25,83.07 143.50,83.72 143.75,84.05 144.00,84.05 144.25,83.73 144.50,83.13 144.75,82.32 145.00,81.37 145.25,80.34 145.50,79.33 145.75,78.44 146.00,77.76 146.25,77.38 146.50,77.34 146.75,77.67 147.00,78.35 147.25,79.31 147.50,80.43 147.75,81.58 148.00,82.61 148.25,83.38 148.50,83.82 148.75,83.88 149.00,83.58 149.25,82.96 149.50,82.10 149.75,81.08 150.00,80.01 150.25,79.03 150.50,78.28 150.75,77.84 151.00,77.77 151.25,78.06 151.50,78.69 151.75,79.57 152.00,80.59 152.25,81.63 152.50,82.54 152.75,83.19 153.00,83.52 153.25,83.46 153.50,83.04 153.75,82.32 154.00,81.38 154.25,80.34 154.50,79.30 154.75,78.35 155.00,77.63 155.25,77.28 155.50,77.41 155.75,78.05 156.00,79.11 156.25,80.42 156.50,81.75 156.75,82.91 157.00,83.75 157.25,84.16 157.50,84.12 157.75,83.66 158.00,82.85 158.25,81.79 158.50,80.61 158.75,79.42 159.00,78.33 159.25,77.49 159.50,77.00 159.75,76.95 160.00,77.38 160.25,77.57 160.50,78.16 160.75,78.99 161.00,79.89 161.25,80.66 161.50,81.15 161.75,81.22 162.00,80.77 162.25,79.77 162.50,78.25 162.75,76.29 163.00,74.04 163.25,71.66 163.50,69.41 163.75,67.50 164.00,66.06 164.25,65.18 164.50,64.86 164.75,65.06 165.00,65.69 165.25,67.25 165.50,68.97 165.75,70.71 166.00,72.33 166.25,73.68 166.50,74.57 166.75,74.85 167.00,74.41 167.25,73.27 167.50,71.52 167.75,69.41 168.00,67.21 168.25,65.20 168.50,63.62 168.75,62.66 169.00,62.39 169.25,62.79 169.50,63.80 169.75,65.28 170.00,67.09 170.25,69.06 170.50,70.98 170.75,72.63 171.00,73.81 171.25,74.35 171.50,74.16 171.75,73.23 172.00,71.65 172.25,69.62 172.50,67.41 172.75,65.36 173.00,63.74 173.25,62.77 173.50,62.53 173.75,63.01 174.00,64.11 174.25,65.67 174.50,67.53 174.75,69.46 175.00,71.17 175.25,72.43 175.50,73.06 175.75,73.02 176.00,72.33 176.25,71.10 176.50,69.49 176.75,67.69 177.00,65.93 177.25,64.45 177.50,63.44 177.75,63.02 178.00,63.25 178.25,64.09 178.50,65.41 178.75,67.04 179.00,68.78 179.25,69.55 179.50,69.98 179.75,69.91 180.00,69.26 180.25,68.02 180.50,66.24 180.75,64.05 181.00,61.64 181.25,59.17 181.50,56.80 181.75,54.68 182.00,52.98 182.25,51.81 182.50,51.25 182.75,51.30 183.00,51.84 183.25,53.47 183.50,55.20 183.75,56.78 184.00,58.01 184.25,58.76 184.50,59.00 184.75,58.74 185.00,58.06 185.25,57.06 185.50,55.82 185.75,54.44 186.00,53.03 186.25,51.74 186.50,50.69 186.75,49.98 187.00,49.67 187.25,49.76 187.50,50.25 187.75,51.07 188.00,52.14 188.25,53.36 188.50,54.64 188.75,55.93 189.00,57.13 189.25,58.11 189.50,58.72 189.75,58.82 190.00,58.34 190.25,57.28 190.50,55.74 190.75,53.92 191.00,52.06 191.25,50.42 191.50,49.18 191.75,48.46 192.00,48.30 192.25,48.63 192.50,49.37 192.75,50.40 193.00,51.65 193.25,53.02 193.50,54.43 193.75,55.74 194.00,56.80 194.25,57.48 194.50,57.65 194.75,57.24 195.00,56.26 195.25,54.81 195.50,53.08 195.75,51.30 196.00,49.66 196.25,48.37 196.50,47.59 196.75,47.42 197.00,47.88 197.25,48.94 197.50,50.44 197.75,52.20 198.00,54.00 198.25,55.61 198.50,56.81 198.75,57.45 199.00,57.40 199.25,57.12 199.50,55.90 199.75,53.76 200.00,50.92 200.25,47.75 200.50,44.71 200.75,42.31 201.00,40.98 201.25,40.99 201.50,48.92 201.75,58.76 202.00,67.87 202.25,75.48 202.50,81.16 202.75,77.39 203.00,74.97 203.25,72.40 203.50,68.31 203.75,62.20 204.00,57.00 204.25,50.90 204.50,44.79 204.75,39.46 205.00,35.58 205.25,33.56 205.50,33.56 205.75,35.51 206.00,39.09 206.25,43.89 206.50,49.38 206.75,54.90 207.00,59.79 207.25,63.48 207.50,65.58 207.75,65.92 208.00,64.54 208.25,61.64 208.50,57.56 208.75,52.72 209.00,47.61 209.25,42.77 209.50,38.69 209.75,35.82 210.00,34.46 210.25,34.77 210.50,36.70 210.75,40.07 211.00,44.50 211.25,49.52 211.50,54.58 211.75,59.10 212.00,62.60 212.25,64.72 212.50,65.24 212.75,64.13 213.00,61.53 213.25,57.72 213.50,53.07 213.75,48.05 214.00,43.08 214.25,38.61 214.50,35.15 214.75,33.19 215.00,33.11 215.25,35.08 215.50,38.95 215.75,44.26 216.00,50.29 216.25,56.11 216.50,60.82 216.75,63.81 217.00,64.82 217.25,63.97 217.50,61.57 217.75,58.04 218.00,53.74 218.25,48.98 218.50,44.16 218.75,39.78 219.00,36.39 219.25,34.55 219.50,34.71 219.75,37.01 220.00,41.22 220.25,46.71 220.50,52.61 220.75,58.06 221.00,62.29 221.25,64.74 221.50,65.11 221.75,63.40 222.00,59.88 222.25,55.01 222.50,49.42 222.75,43.98 223.00,39.59 223.25,36.86 223.50,36.04 223.75,37.02 224.00,39.47 224.25,42.99 224.50,47.19 224.75,51.68 225.00,55.97 225.25,57.95 225.50,58.32 225.75,57.12 226.00,54.64 226.25,51.40 226.50,48.00 226.75,45.03 227.00,42.83 227.25,41.48 227.50,40.32 227.75,39.52 228.00,39.21 228.25,39.49 228.50,40.34 228.75,41.68 229.00,43.30 229.25,44.97 229.50,46.50 229.75,47.72 230.00,48.50 230.25,48.77 230.50,48.52 230.75,47.81 231.00,46.70 231.25,45.32 231.50,43.81 231.75,42.36 232.00,41.15 232.25,40.34 232.50,39.96 232.75,40.01 233.00,40.41 233.25,41.08 233.50,41.95 233.75,42.94 234.00,44.02 234.25,45.10 234.50,46.09 234.75,46.91 235.00,47.47 235.25,47.70 235.50,47.54 235.75,47.01 236.00,46.14 236.25,45.03 236.50,43.79 236.75,42.58 237.00,41.54 237.25,40.94 237.50,40.52 237.75,40.53 238.00,41.17 238.25,42.56 238.50,44.75 238.75,47.71 239.00,51.33 239.25,54.38 239.50,57.30 239.75,59.77 240.00,61.41 240.25,61.83 240.50,60.79 240.75,58.28 241.00,54.62 241.25,50.37 241.50,46.21 241.75,42.78 242.00,40.54 242.25,39.70 242.50,40.19 242.75,41.79 243.00,44.21 243.25,47.18 243.50,50.49 243.75,53.77 244.00,56.62 244.25,58.64 244.50,59.59 244.75,59.35 245.00,57.96 245.25,55.61 245.50,52.58 245.75,49.24 246.00,45.79 246.25,42.52 246.50,39.89 246.75,38.42 247.00,38.58 247.25,40.55 247.50,44.11 247.75,48.66 248.00,53.38 248.25,57.52 248.50,60.50 248.75,61.99 249.00,61.93 249.25,60.50 249.50,57.98 249.75,54.70 250.00,50.97 250.25,47.19 250.50,43.85 250.75,41.35 251.00,39.99 251.25,39.87 251.50,40.96 251.75,43.11 252.00,46.05 252.25,49.45 252.50,52.91 252.75,55.99 253.00,58.32 253.25,59.65 253.50,59.91 253.75,59.15 254.00,57.49 254.25,55.93 254.50,54.07 254.75,52.18 255.00,50.50 255.25,49.25 255.50,48.65 255.75,48.84 256.00,49.90 256.25,50.61 256.50,52.15 256.75,54.34 257.00,56.92 257.25,59.58 257.50,62.03 257.75,64.03 258.00,65.36 258.25,65.87 258.50,65.52 258.75,64.34 259.00,62.45 259.25,60.05 259.50,57.38 259.75,54.73 260.00,52.34 260.25,50.50 260.50,49.42 260.75,49.25 261.00,50.06 261.25,51.78 261.50,54.23 261.75,57.11 262.00,60.03 262.25,62.55 262.50,64.33 262.75,65.19 263.00,65.10 263.25,64.14 263.50,62.34 263.75,59.83 264.00,56.74 264.25,53.33 264.50,49.97 264.75,47.05 265.00,45.02 265.25,44.94 265.50,46.22 265.75,48.72 266.00,52.11 266.25,55.92 266.50,59.63 266.75,62.75 267.00,64.86 267.25,65.66 267.50,65.00 267.75,62.97 268.00,59.83 268.25,56.03 268.50,52.08 268.75,48.47 269.00,45.66 269.25,44.08 269.50,44.03 269.75,45.56 270.00,48.52 270.25,52.45 270.50,56.78 270.75,60.85 271.00,64.11 271.25,66.14 271.50,66.72 271.75,65.82 272.00,63.63 272.25,60.45 272.50,56.66 272.75,52.72 273.00,49.02 273.25,46.00 273.50,44.05 273.75,43.47 274.00,44.39 274.25,46.74 274.50,50.23 274.75,54.38 275.00,58.62 275.25,62.39 275.50,65.25 275.75,66.90 276.00,67.26 276.25,66.38 276.50,64.45 276.75,61.70 277.00,58.41 277.25,54.86 277.50,51.29 277.75,47.98 278.00,45.24 278.25,43.81 278.50,43.60 278.75,44.79 279.00,47.35 279.25,51.07 279.50,55.51 279.75,60.18 280.00,64.65 280.25,68.53 280.50,71.48 280.75,73.25 281.00,73.70 281.25,72.81 281.50,70.72 281.75,67.65 282.00,63.95 282.25,60.08 282.50,56.60 282.75,54.03 283.00,52.64 283.25,52.51 283.50,53.52 283.75,55.42 284.00,57.95 284.25,60.91 284.50,64.16 284.75,67.50 285.00,70.68 285.25,73.38 285.50,75.35 285.75,76.39 286.00,76.37 286.25,75.31 286.50,73.34 286.75,70.74 287.00,67.86 287.25,64.59 287.50,61.69 287.75,59.48 288.00,58.28 288.25,58.31 288.50,59.63 288.75,62.13 289.00,65.44 289.25,69.11 289.50,72.67 289.75,75.73 290.00,77.87 290.25,78.80 290.50,78.34 290.75,76.50 291.00,73.50 291.25,69.74 291.50,65.77 291.75,62.26 292.00,59.73 292.25,58.45 292.50,58.44 292.75,59.50 293.00,61.34 293.25,63.69 293.50,66.36 293.75,69.09 294.00,71.56 294.25,73.47 294.50,74.56 294.75,74.69 295.00,73.82 295.25,72.04 295.50,69.60 295.75,66.81 296.00,63.99 296.25,61.90 296.50,60.33 296.75,59.53 297.00,59.68 297.25,60.85 297.50,62.97 297.75,65.83 298.00,69.10 298.25,72.43 298.50,75.55 298.75,78.17 299.00,80.04 299.25,80.98 299.50,80.93 299.75,79.91 300.00,78.09 300.25,75.73 300.50,73.16 300.75,70.67 301.00,68.54 301.25,67.02 301.50,66.34 301.75,66.62 302.00,67.92 302.25,70.15 302.50,73.13 302.75,76.55 303.00,80.09 303.25,83.42 303.50,86.23 303.75,88.28 304.00,89.41 304.25,89.55 304.50,88.74 304.75,87.10 305.00,84.85 305.25,81.85 305.50,78.82 305.75,76.10 306.00,73.99 306.25,72.73 306.50,72.44 306.75,73.17 307.00,74.84 307.25,77.27 307.50,80.19 307.75,83.27 308.00,86.01 308.25,88.03 308.50,89.09 308.75,89.16 309.00,88.36 309.25,86.89 309.50,84.95 309.75,82.70 310.00,80.27 310.25,77.79 310.50,75.48 310.75,73.70 311.00,72.85 311.25,73.23 311.50,74.96 311.75,77.82 312.00,81.30 312.25,84.79 312.50,87.74 312.75,89.75 313.00,90.56 313.25,90.15 313.50,88.63 313.75,86.24 314.00,83.28 314.25,80.12 314.50,77.29 314.75,75.25 315.00,74.25 315.25,74.33 315.50,75.35 315.75,77.09 316.00,79.32 316.25,82.00 316.50,84.67 316.75,87.02 317.00,88.76 317.25,89.66 317.50,89.61 317.75,88.61 318.00,86.83 318.25,84.56 318.50,82.12 318.75,79.79 319.00,77.86 319.25,76.61 319.50,76.25 319.75,76.91 320.00,78.56 320.25,81.02 320.50,83.96 320.75,86.98 321.00,89.72 321.25,91.86 321.50,93.21 321.75,93.67 322.00,93.27 322.25,92.13 322.50,90.40 322.75,88.30 323.00,86.05 323.25,83.89 323.50,82.06 323.75,80.78 324.00,80.19 324.25,80.28 324.50,81.14 324.75,82.70 325.00,84.79 325.25,87.21 325.50,89.74 325.75,92.17 326.00,94.31 326.25,95.94 326.50,96.89 326.75,97.01 327.00,96.28 327.25,94.73 327.50,92.55 327.75,90.00 328.00,87.37 328.25,84.92 328.50,82.93 328.75,81.59 329.00,81.08 329.25,81.45 329.50,82.70 329.75,84.71 330.00,87.30 330.25,90.20 330.50,93.10 330.75,95.67 331.00,97.61 331.25,98.75 331.50,98.99 331.75,98.35 332.00,96.94 332.25,94.92 332.50,92.51 332.75,89.93 333.00,87.47 333.25,85.40 333.50,83.99 333.75,83.46 334.00,83.94 334.25,85.44 334.50,87.80 334.75,90.74 335.00,93.86 335.25,96.73 335.50,98.97 335.75,100.31 336.00,100.65 336.25,100.04 336.50,98.60 336.75,96.55 337.00,94.11 337.25,91.53 337.50,89.04 337.75,86.94 338.00,85.55 338.25,85.15 338.50,85.92 338.75,87.84 339.00,90.67 339.25,93.98 339.50,97.28 339.75,100.11 340.00,102.11 340.25,103.08 340.50,102.99 340.75,101.93 341.00,100.11 341.25,97.73 341.50,95.07 341.75,92.39 342.00,89.97 342.25,88.33 342.50,87.47 342.75,87.61 343.00,88.85 343.25,91.15 343.50,94.28 343.75,97.89 344.00,101.51 344.25,104.63 344.50,106.91 344.75,108.17 345.00,108.45 345.25,107.92 345.50,106.80 345.75,105.26 346.00,103.44 346.25,101.42 346.50,99.31 346.75,97.27 347.00,95.56 347.25,94.49 347.50,94.34 347.75,95.33 348.00,97.51 348.25,100.70 348.50,104.54 348.75,108.58 349.00,112.38 349.25,115.56 349.50,117.84 349.75,119.04 350.00,119.12 350.25,118.15 350.50,116.27 350.75,113.70 351.00,110.68 351.25,107.52 351.50,104.56 351.75,102.15 352.00,100.63 352.25,100.26 352.50,101.18 352.75,103.41 353.00,106.78 353.25,110.99 353.50,115.57 353.75,119.94 354.00,123.55 354.25,126.00 354.50,127.09 354.75,126.85 355.00,125.44 355.25,122.93 355.50,119.82 355.75,116.40 356.00,113.02 356.25,110.07 356.50,107.96 356.75,107.10 357.00,107.74 357.25,109.93 357.50,113.47 357.75,117.88 358.00,122.50 358.25,126.69 358.50,129.86 358.75,131.66 359.00,131.95 359.25,130.80 359.50,128.46 359.75,125.27 360.00,121.67 360.25,118.21 360.50,115.45 360.75,113.80 361.00,113.50 361.25,114.55 361.50,116.80 361.75,119.95 362.00,123.63 362.25,127.39 362.50,130.73 362.75,133.22 363.00,134.59 363.25,134.73 363.50,133.71 363.75,131.73 364.00,129.11 364.25,126.19 364.50,123.19 364.75,120.36 365.00,118.13 365.25,116.95 365.50,117.26 365.75,119.20 366.00,122.61 366.25,126.92 366.50,131.42 366.75,135.50 367.00,138.70 367.25,140.72 367.50,141.42 367.75,140.86 368.00,139.22 368.25,136.75 368.50,133.78 368.75,130.65 369.00,127.79 369.25,125.58 369.50,124.28 369.75,123.96 370.00,124.56 370.25,125.93 370.50,127.90 370.75,130.25 371.00,132.82 371.25,135.40 371.50,137.75 371.75,139.69 372.00,141.03 372.25,141.69 372.50,141.64 372.75,140.92 373.00,139.65 373.25,137.99 373.50,136.16 373.75,134.35 374.00,132.75 374.25,131.53 374.50,130.83 374.75,130.75 375.00,131.34 375.25,132.50 375.50,134.20 375.75,136.27 376.00,138.48 376.25,140.66 376.50,142.62 376.75,144.19 377.00,145.19 377.25,145.52 377.50,145.11 377.75,144.04 378.00,142.44 378.25,140.57 378.50,138.72 378.75,137.20 379.00,136.24 379.25,135.94 379.50,136.28 379.75,137.15 380.00,138.42 380.25,139.94 380.50,141.60 380.75,143.31 381.00,144.98 381.25,146.47 381.50,147.57 381.75,148.11 382.00,147.97 382.25,147.14 382.50,145.77 382.75,144.15 383.00,142.56 383.25,141.08 383.50,140.01 383.75,139.51 384.00,139.65 384.25,140.41 384.50,141.71 384.75,143.39 385.00,145.24 385.25,147.00 385.50,148.40 385.75,149.27 386.00,149.57 386.25,149.36 386.50,148.73 386.75,147.82 387.00,146.72 387.25,145.52 387.50,144.34 387.75,143.31 388.00,142.56 388.25,142.21 388.50,142.34 388.75,142.96 389.00,144.03 389.25,145.42 389.50,146.94 389.75,148.42 390.00,149.68 390.25,150.60 390.50,151.09 390.75,151.16 391.00,150.83 391.25,150.17 391.50,149.25 391.75,148.19 392.00,147.08 392.25,146.02 392.50,145.11 392.75,144.47 393.00,144.17 393.25,144.28 393.50,144.81 393.75,145.73 394.00,146.95 394.25,148.33 394.50,149.73 394.75,150.97 395.00,151.92 395.25,152.51 395.50,152.72 395.75,152.59 396.00,152.16 396.25,151.51 396.50,150.72 396.75,149.82 397.00,148.91 397.25,148.04 397.50,147.32 397.75,146.84 398.00,146.68 398.25,146.90 398.50,147.51 398.75,148.47 399.00,149.67 399.25,150.98 399.50,152.27 399.75,153.40 400.00,154.26 400.25,154.76 400.50,154.83 400.75,154.47 401.00,153.72 401.25,152.68 401.50,151.49 401.75,150.31 402.00,149.29 402.25,148.58 402.50,148.28 402.75,148.45 403.00,149.09 403.25,150.13 403.50,151.45 403.75,152.89 404.00,154.28 404.25,155.46 404.50,156.26 404.75,156.60 405.00,156.44 405.25,155.79 405.50,154.77 405.75,153.54 406.00,152.26 406.25,152.42 406.50,152.84 406.75,153.69 407.00,155.09 407.25,157.07 407.50,159.59 407.75,162.50 408.00,165.57 408.25,167.09 408.50,168.20 408.75,168.77 409.00,168.79 409.25,168.33 409.50,167.51 409.75,166.45 410.00,165.24 410.25,164.04 410.50,163.00 410.75,162.28 411.00,161.95 411.25,162.06 411.50,162.57 411.75,163.43 412.00,164.53 412.25,165.73 412.50,166.92 412.75,167.96 413.00,168.75 413.25,169.18 413.50,169.19 413.75,168.77 414.00,167.97 414.25,166.90 414.50,165.70 414.75,164.51 415.00,163.45 415.25,162.64 415.50,162.18 415.75,162.13 416.00,162.50 416.25,163.27 416.50,164.35 416.75,165.62 417.00,166.95 417.25,168.24 417.50,169.36 417.75,170.20 418.00,170.65 418.25,170.66 418.50,170.19 418.75,169.29 419.00,168.06 419.25,166.65 419.50,165.23 419.75,163.98 420.00,163.02 420.25,162.47 420.50,162.36 420.75,162.70 421.00,163.44 421.25,164.51 421.50,165.81 421.75,167.22 422.00,168.59 422.25,169.79 422.50,170.68 422.75,171.17 423.00,171.19 423.25,170.75 423.50,169.88 423.75,168.69 424.00,167.32 424.25,166.95 424.50,166.77 424.75,166.92 425.00,167.48 425.25,168.51 425.50,170.02 425.75,171.91 426.00,174.08 426.25,176.34 426.50,178.52 426.75,180.43 427.00,181.97 427.25,182.22 427.50,182.14 427.75,181.76 428.00,181.18 428.25,180.45 428.50,179.64 428.75,178.84 429.00,178.15 429.25,177.67 429.50,177.45 429.75,177.54 430.00,177.92 430.25,178.54 430.50,179.33 430.75,180.18 431.00,181.00 431.25,181.70 431.50,182.18 431.75,182.39 432.00,182.29 432.25,181.88 432.50,181.24 432.75,180.43 433.00,179.58 433.25,178.79 433.50,178.17 433.75,177.79 434.00,177.69 434.25,177.87 434.50,178.31 434.75,178.94 435.00,179.71 435.25,180.52 435.50,181.32 435.75,182.02 436.00,182.55 436.25,182.85 436.50,182.87 436.75,182.60 437.00,182.06 437.25,181.31 437.50,180.47 437.75,179.61 438.00,178.81 438.25,178.15 438.50,177.70 438.75,177.52 439.00,177.63 439.25,178.05 439.50,178.72 439.75,179.59 440.00,180.55 440.25,181.48 440.50,182.27 440.75,182.83 441.00,183.12 441.25,183.14 441.50,182.92 441.75,182.53 442.00,182.00 442.25,181.38 442.50,180.71 442.75,180.02 443.00,179.38 443.25,178.84 443.50,178.48 443.75,178.34 444.00,178.46 444.25,178.86 444.50,179.49 444.75,180.28 445.00,181.15 445.25,182.00 445.50,182.76 445.75,183.33 446.00,178.99 446.25,174.18 446.50,168.45 446.75,162.09 447.00,155.68 447.25,161.45 447.50,166.00 447.75,169.13 448.00,171.15 448.25,172.91 448.50,173.04 448.75,174.58 449.00,177.34 449.25,180.99 449.50,185.11 449.75,189.27 450.00,193.04 450.25,195.91 450.50,197.41 450.75,197.21 451.00,195.20 451.25,191.59 451.50,186.94 451.75,181.96 452.00,177.41 452.25,173.93 452.50,172.00 452.75,171.82 453.00,173.38 453.25,176.42 453.50,180.53 453.75,185.19 454.00,189.80 454.25,193.78 454.50,196.57 454.75,197.78 455.00,197.19 455.25,194.88 455.50,191.13 455.75,186.50 456.00,181.70 456.25,177.58 456.50,174.77 456.75,173.55 457.00,173.87 457.25,175.44 457.50,177.90 457.75,180.94 458.00,184.33 458.25,187.77 458.50,190.83 458.75,193.17 459.00,194.50 459.25,194.66 459.50,193.62 459.75,191.50 460.00,188.58 460.25,185.20 460.50,181.79 460.75,178.77 461.00,176.47 461.25,175.13 461.50,174.87 461.75,175.67 462.00,177.41 462.25,179.89 462.50,182.85 462.75,186.03 463.00,189.23 463.25,192.23 463.50,194.71 463.75,196.30 464.00,196.66 464.25,195.62 464.50,193.20 464.75,189.66 465.00,185.52 465.25,181.27 465.50,177.33 465.75,174.11 466.00,171.96 466.25,171.13 466.50,171.75 466.75,173.79 467.00,177.05 467.25,181.79 467.50,186.20 467.75,189.68 468.00,191.87 468.25,192.75 468.50,192.57 468.75,191.72 469.00,190.62 469.25,189.73 469.50,188.68 469.75,187.52 470.00,186.30 470.25,185.11 470.50,184.06 470.75,183.31 471.00,183.03 471.25,183.34 471.50,184.25 471.75,185.65 472.00,187.30 472.25,188.98 472.50,190.45 472.75,191.53 473.00,192.09 473.25,192.05 473.50,191.42 473.75,190.28 474.00,188.78 474.25,187.10 474.50,185.45 474.75,184.02 475.00,183.00 475.25,182.54 475.50,182.72 475.75,183.53 476.00,184.88 476.25,186.56 476.50,188.35 476.75,189.93 477.00,191.08 477.25,191.66 477.50,191.66 477.75,191.16 478.00,190.26 478.25,189.09 478.50,187.76 478.75,186.37 479.00,185.06 479.25,183.97 479.50,183.24 479.75,183.00 480.00,183.30 480.25,184.15 480.50,185.42 480.75,186.95 481.00,188.50 481.25,189.87 481.50,190.89 481.75,191.46 482.00,191.55 482.25,191.20 482.50,190.50 482.75,189.53 483.00,188.37 483.25,186.72 483.50,184.88 483.75,183.03 484.00,181.36 484.25,180.08 484.50,179.30 484.75,179.12 485.00,179.57 485.25,180.62 485.50,182.16 485.75,184.07 486.00,186.22 486.25,188.54 486.50,190.53 486.75,191.91 487.00,192.45 487.25,191.96 487.50,190.39 487.75,187.86 488.00,184.64 488.25,181.15 488.50,177.84 488.75,175.11 489.00,173.25 489.25,172.41 489.50,172.57 489.75,173.59 490.00,175.30 490.25,177.53 490.50,180.11 490.75,182.93 491.00,185.80 491.25,188.51 491.50,190.74 491.75,192.14 492.00,192.37 492.25,191.24 492.50,188.75 492.75,185.17 493.00,181.00 493.25,176.83 493.50,173.23 493.75,170.65 494.00,169.40 494.25,169.53 494.50,170.95 494.75,173.44 495.00,176.74 495.25,180.59 495.50,184.48 495.75,187.97 496.00,190.61 496.25,192.02 496.50,191.94 496.75,190.30 497.00,187.29 497.25,183.30 497.50,178.91 497.75,174.61 498.00,170.89 498.25,168.28 498.50,167.24 498.75,168.05 499.00,170.71 499.25,174.85 499.50,179.84 499.75,184.81 500.00,188.92 500.25,191.56 500.50,192.48 500.75,191.77 501.00,189.73 501.25,186.73 501.50,183.10 501.75,179.16 502.00,175.35 502.25,172.12 502.50,169.89 502.75,168.99 503.00,169.59 503.25,171.66 503.50,174.92 503.75,178.92 504.00,183.09 504.25,186.90 504.50,189.85 504.75,191.62 505.00,192.03 505.25,191.08 505.50,188.93 505.75,185.84 506.00,182.17 506.25,178.33 506.50,174.81 506.75,172.02 507.00,170.26 507.25,169.68 507.50,170.29 507.75,171.99 508.00,174.56 508.25,177.72 508.50,181.18 508.75,184.62 509.00,187.72 509.25,189.62 509.50,190.48 509.75,190.20 510.00,188.78 510.25,186.42 510.50,183.40 510.75,180.10 511.00,176.93 511.25,174.28 511.50,172.18 511.75,170.86 512.00,170.42 512.25,170.85 512.50,172.08 512.75,173.96 513.00,176.29 513.25,178.89 513.50,181.55 513.75,184.07 514.00,186.20 514.25,187.63 514.50,188.08 514.75,187.38 515.00,185.51 515.25,182.70 515.50,179.33 515.75,175.90 516.00,172.83 516.25,170.51 516.50,169.22 516.75,169.10 517.00,170.13 517.25,172.17 517.50,174.98 517.75,178.25 518.00,181.54 518.25,184.38 518.50,186.38 518.75,187.30 519.00,187.10 519.25,185.86 519.50,183.78 519.75,181.11 520.00,178.13 520.25,175.09 520.50,172.28 520.75,170.06 521.00,168.85 521.25,168.98 521.50,170.55 521.75,173.40 522.00,177.07 522.25,180.93 522.50,184.31 522.75,186.72 523.00,187.88 523.25,187.78 523.50,186.58 523.75,184.54 524.00,181.92 524.25,178.97 524.50,175.95 524.75,173.19 525.00,171.01 525.25,169.70 525.50,169.47 525.75,170.41 526.00,172.43 526.25,175.26 526.50,178.50 526.75,181.76 527.00,184.66 527.25,186.89 527.50,188.19 527.75,188.43 528.00,187.58 528.25,185.74 528.50,183.14 528.75,180.06 529.00,176.87 529.25,171.09 529.50,166.72 529.75,163.55 530.00,161.14 530.25,159.01 530.50,161.96 530.75,166.24 531.00,170.56"/>
<polyline fill="none" stroke="#7ecd3e" stroke-width="1.3" stroke-linejoin="round" points="41.50,143.19 41.75,142.75 42.00,141.60 42.25,139.86 42.50,137.71 42.75,135.38 43.00,133.14 43.25,131.24 43.50,129.91 43.75,129.33 44.00,129.54 44.25,130.45 44.50,132.00 44.75,134.14 45.00,136.70 45.25,139.45 45.50,142.09 45.75,144.26 46.00,145.65 46.25,146.06 46.50,145.44 46.75,143.90 47.00,141.64 47.25,138.93 47.50,136.08 47.75,133.41 48.00,131.18 48.25,129.61 48.50,128.83 48.75,128.94 49.00,130.01 49.25,131.89 49.50,134.33 49.75,136.97 50.00,139.49 50.25,141.63 50.50,143.20 50.75,144.12 51.00,144.33 51.25,143.81 51.50,142.58 51.75,140.72 52.00,138.39 52.25,135.82 52.50,133.35 52.75,131.32 53.00,130.07 53.25,129.83 53.50,130.61 53.75,132.30 54.00,134.72 54.25,137.56 54.50,140.47 54.75,143.07 55.00,145.00 55.25,146.01 55.50,145.92 55.75,144.73 56.00,142.62 56.25,139.96 56.50,137.16 56.75,134.63 57.00,132.67 57.25,133.67 57.50,135.58 57.75,138.28 58.00,141.60 58.25,145.38 58.50,149.39 58.75,153.34 59.00,156.91 59.25,158.29 59.50,158.99 59.75,158.87 60.00,157.95 60.25,156.42 60.50,154.59 60.75,152.76 61.00,151.18 61.25,150.02 61.50,149.33 61.75,149.12 62.00,149.41 62.25,150.19 62.50,151.39 62.75,152.89 63.00,154.52 63.25,156.09 63.50,157.39 63.75,158.24 64.00,158.53 64.25,158.23 64.50,157.42 64.75,156.18 65.00,154.65 65.25,152.98 65.50,151.37 65.75,150.00 66.00,149.01 66.25,148.53 66.50,148.60 66.75,149.21 67.00,150.28 67.25,151.69 67.50,153.30 67.75,154.92 68.00,156.40 68.25,157.61 68.50,158.43 68.75,158.79 69.00,158.68 69.25,158.09 69.50,157.09 69.75,155.76 70.00,154.22 70.25,152.61 70.50,151.10 70.75,149.83 71.00,148.95 71.25,148.57 71.50,148.72 71.75,149.37 72.00,150.47 72.25,151.94 72.50,153.63 72.75,155.39 73.00,157.04 73.25,158.39 73.50,159.30 73.75,159.64 74.00,159.39 74.25,158.58 74.50,157.27 74.75,155.59 75.00,153.68 75.25,151.76 75.50,150.05 75.75,148.76 76.00,148.08 76.25,148.11 76.50,148.90 76.75,150.32 77.00,152.14 77.25,154.08 77.50,155.87 77.75,157.33 78.00,158.34 78.25,158.85 78.50,158.85 78.75,158.32 79.00,157.29 79.25,155.83 79.50,154.09 79.75,152.28 80.00,150.64 80.25,149.43 80.50,148.85 80.75,149.00 81.00,149.83 81.25,152.58 81.50,155.83 81.75,159.39 82.00,162.98 82.25,166.31 82.50,169.10 82.75,171.14 83.00,172.28 83.25,170.95 83.50,168.98 83.75,166.69 84.00,164.42 84.25,162.45 84.50,160.96 84.75,160.10 85.00,159.89 85.25,160.40 85.50,161.59 85.75,163.26 86.00,165.17 86.25,167.07 86.50,168.73 86.75,169.99 87.00,170.76 87.25,170.98 87.50,170.69 87.75,169.94 88.00,168.69 88.25,166.97 88.50,164.87 88.75,162.63 89.00,160.55 89.25,158.98 89.50,158.20 89.75,158.34 90.00,159.36 90.25,161.08 90.50,163.23 90.75,165.50 91.00,167.63 91.25,169.41 91.50,170.71 91.75,171.49 92.00,171.74 92.25,171.42 92.50,170.51 92.75,169.12 93.00,167.38 93.25,165.47 93.50,163.58 93.75,161.92 94.00,160.67 94.25,159.95 94.50,159.86 94.75,160.36 95.00,161.41 95.25,162.97 95.50,164.96 95.75,167.20 96.00,169.45 96.25,171.39 96.50,172.74 96.75,173.25 97.00,172.84 97.25,171.57 97.50,169.63 97.75,167.27 98.00,164.81 98.25,162.55 98.50,160.74 98.75,159.56 99.00,159.13 99.25,161.61 99.50,164.75 99.75,168.30 100.00,171.94 100.25,175.39 100.50,178.43 100.75,180.94 101.00,182.89 101.25,182.98 101.50,182.64 101.75,181.90 102.00,180.83 102.25,179.54 102.50,178.21 102.75,177.02 103.00,176.16 103.25,175.80 103.50,175.99 103.75,176.73 104.00,177.86 104.25,179.14 104.50,180.36 104.75,181.35 105.00,182.02 105.25,182.35 105.50,182.37 105.75,182.06 106.00,181.44 106.25,180.52 106.50,179.38 106.75,178.15 107.00,177.03 107.25,176.22 107.50,175.88 107.75,176.07 108.00,176.73 108.25,177.75 108.50,178.97 108.75,180.20 109.00,181.31 109.25,182.16 109.50,182.69 109.75,182.87 110.00,182.66 110.25,182.09 110.50,181.23 110.75,180.21 111.00,179.17 111.25,178.23 111.50,177.47 111.75,176.96 112.00,176.73 112.25,176.79 112.50,177.11 112.75,177.70 113.00,178.51 113.25,179.49 113.50,180.56 113.75,181.59 114.00,182.46 114.25,183.05 114.50,183.26 114.75,183.09 115.00,182.58 115.25,181.77 115.50,180.74 115.75,179.56 116.00,178.35 116.25,177.23 116.50,176.33 116.75,175.76 117.00,175.57 117.25,175.82 117.50,176.48 117.75,177.45 118.00,178.59 118.25,180.25 118.50,182.33 118.75,184.57 119.00,186.74 119.25,188.59 119.50,189.94 119.75,190.53 120.00,190.16 120.25,187.85 120.50,184.92 120.75,181.63 121.00,178.33 121.25,175.43 121.50,173.36 121.75,172.45 122.00,172.86 122.25,174.52 122.50,177.22 122.75,180.56 123.00,184.09 123.25,187.39 123.50,190.09 123.75,191.92 124.00,192.74 124.25,192.48 124.50,191.18 124.75,188.89 125.00,185.79 125.25,182.17 125.50,178.47 125.75,175.20 126.00,172.91 126.25,171.98 126.50,172.57 126.75,174.53 127.00,177.61 127.25,181.41 127.50,185.44 127.75,189.18 128.00,192.16 128.25,194.01 128.50,194.49 128.75,193.49 129.00,191.13 129.25,187.84 129.50,184.16 129.75,180.62 130.00,177.65 130.25,175.51 130.50,174.33 130.75,174.16 131.00,174.96 131.25,176.69 131.50,179.28 131.75,182.54 132.00,186.16 132.25,189.69 132.50,192.61 132.75,194.46 133.00,194.93 133.25,194.00 133.50,191.85 133.75,188.78 134.00,185.15 134.25,181.41 134.50,177.96 134.75,175.14 135.00,173.22 135.25,172.35 135.50,172.62 135.75,174.00 136.00,176.34 136.25,179.40 136.50,182.86 136.75,186.37 137.00,189.57 137.25,192.13 137.50,193.78 137.75,194.35 138.00,193.80 138.25,192.15 138.50,189.83 138.75,187.17 139.00,184.51 139.25,182.19 139.50,180.47 139.75,179.53 140.00,179.46 140.25,180.21 140.50,181.64 140.75,183.53 141.00,185.59 141.25,187.05 141.50,188.54 141.75,189.90 142.00,190.99 142.25,191.73 142.50,192.05 142.75,191.93 143.00,191.38 143.25,190.42 143.50,189.14 143.75,187.64 144.00,186.10 144.25,184.72 144.50,183.69 144.75,183.18 145.00,183.27 145.25,183.93 145.50,185.09 145.75,186.63 146.00,188.35 146.25,190.05 146.50,191.49 146.75,192.46 147.00,192.82 147.25,192.49 147.50,191.48 147.75,190.01 148.00,188.35 148.25,186.80 148.50,185.55 148.75,184.71 149.00,184.30 149.25,184.31 149.50,184.74 149.75,185.60 150.00,186.84 150.25,188.39 150.50,190.03 150.75,191.49 151.00,192.47 151.25,192.77 151.50,192.33 151.75,191.25 152.00,189.73 152.25,188.05 152.50,186.44 152.75,185.12 153.00,184.22 153.25,183.79 153.50,183.87 153.75,184.45 154.00,185.48 154.25,186.82 154.50,188.31 154.75,189.75 155.00,190.97 155.25,191.76 155.50,192.14 155.75,191.88 156.00,190.82 156.25,188.98 156.50,186.49 156.75,183.61 157.00,180.65 157.25,177.89 157.50,175.60 157.75,174.00 158.00,173.22 158.25,174.23 158.50,176.05 158.75,178.58 159.00,181.63 159.25,184.94 159.50,188.12 159.75,190.76 160.00,192.48 160.25,193.03 160.50,192.33 160.75,190.52 161.00,187.83 161.25,184.64 161.50,181.31 161.75,178.22 162.00,175.62 162.25,173.73 162.50,172.66 162.75,172.46 163.00,173.11 163.25,174.59 163.50,176.85 163.75,179.77 164.00,183.13 164.25,186.60 164.50,189.78 164.75,192.23 165.00,193.56 165.25,193.57 165.50,192.22 165.75,189.71 166.00,186.43 166.25,182.83 166.50,179.37 166.75,176.42 167.00,174.22 167.25,172.89 167.50,172.50 167.75,173.07 168.00,174.63 168.25,177.04 168.50,180.12 168.75,183.54 169.00,186.92 169.25,189.79 169.50,191.75 169.75,192.47 170.00,191.85 170.25,189.98 170.50,187.11 170.75,183.63 171.00,180.00 171.25,176.68 171.50,174.06 171.75,172.45 172.00,172.00 172.25,172.76 172.50,174.67 172.75,177.51 173.00,181.00 173.25,184.70 173.50,188.14 173.75,190.84 174.00,192.40 174.25,192.58 174.50,191.33 174.75,188.84 175.00,185.56 175.25,181.99 175.50,178.62 175.75,175.84 176.00,173.90 176.25,172.93 176.50,172.97 176.75,174.08 177.00,176.12 177.25,178.52 177.50,181.14 177.75,183.61 178.00,185.61 178.25,186.90 178.50,187.33 178.75,186.85 179.00,185.61 179.25,183.71 179.50,181.27 179.75,178.46 180.00,175.53 180.25,173.03 180.50,170.88 180.75,169.40 181.00,168.81 181.25,169.16 181.50,170.36 181.75,172.27 182.00,174.70 182.25,177.38 182.50,180.05 182.75,182.44 183.00,184.31 183.25,185.47 183.50,185.81 183.75,185.28 184.00,183.94 184.25,181.94 184.50,179.49 184.75,176.88 185.00,174.36 185.25,172.18 185.50,170.54 185.75,169.57 186.00,169.38 186.25,169.95 186.50,171.25 186.75,173.20 187.00,175.65 187.25,178.39 187.50,181.13 187.75,183.56 188.00,185.35 188.25,186.26 188.50,186.12 188.75,184.90 189.00,182.79 189.25,180.14 189.50,177.35 189.75,174.79 190.00,172.72 190.25,171.29 190.50,170.56 190.75,170.54 191.00,171.23 191.25,172.64 191.50,174.72 191.75,177.32 192.00,180.18 192.25,182.89 192.50,184.98 192.75,186.04 193.00,185.84 193.25,184.39 193.50,181.99 193.75,179.09 194.00,176.19 194.25,173.70 194.50,171.87 194.75,170.83 195.00,170.59 195.25,171.12 195.50,172.43 195.75,174.51 196.00,177.23 196.25,180.28 196.50,183.19 196.75,185.40 197.00,186.43 197.25,186.06 197.50,184.42 197.75,181.82 198.00,178.68 198.25,174.37 198.50,170.52 198.75,167.42 199.00,165.25 199.25,164.05 199.50,163.81 199.75,164.40 200.00,165.56 200.25,166.96 200.50,168.26 200.75,169.16 201.00,169.42 201.25,170.16 201.50,170.08 201.75,169.23 202.00,167.70 202.25,165.63 202.50,163.22 202.75,160.75 203.00,158.53 203.25,156.86 203.50,155.96 203.75,155.96 204.00,156.84 204.25,158.47 204.50,160.62 204.75,163.05 205.00,165.47 205.25,167.62 205.50,169.29 205.75,170.34 206.00,170.68 206.25,170.28 206.50,169.17 206.75,167.48 207.00,165.37 207.25,163.07 207.50,160.82 207.75,158.84 208.00,157.35 208.25,156.48 208.50,156.35 208.75,157.00 209.00,158.38 209.25,160.26 209.50,162.35 209.75,164.39 210.00,166.16 210.25,167.51 210.50,168.39 210.75,168.79 211.00,168.70 211.25,168.11 211.50,167.02 211.75,165.52 212.00,163.72 212.25,161.80 212.50,159.99 212.75,158.53 213.00,157.61 213.25,157.40 213.50,157.93 213.75,159.13 214.00,160.83 214.25,162.79 214.50,164.76 214.75,166.52 215.00,167.86 215.25,168.67 215.50,168.88 215.75,168.46 216.00,167.44 216.25,165.91 216.50,164.06 216.75,162.09 217.00,160.28 217.25,158.84 217.50,158.00 217.75,157.87 218.00,158.46 218.25,158.89 218.50,159.67 218.75,160.56 219.00,161.30 219.25,161.70 219.50,161.59 219.75,160.91 220.00,159.69 220.25,158.06 220.50,156.11 220.75,153.96 221.00,151.74 221.25,150.48 221.50,149.32 221.75,148.48 222.00,148.09 222.25,148.23 222.50,148.87 222.75,149.89 223.00,151.10 223.25,152.31 223.50,153.37 223.75,154.17 224.00,154.69 224.25,154.92 224.50,154.86 224.75,154.49 225.00,153.85 225.25,153.00 225.50,152.02 225.75,151.02 226.00,150.11 226.25,149.39 226.50,148.95 226.75,148.84 227.00,149.06 227.25,149.57 227.50,150.33 227.75,151.27 228.00,152.31 228.25,153.34 228.50,154.25 228.75,154.95 229.00,155.35 229.25,155.41 229.50,155.15 229.75,154.58 230.00,153.76 230.25,152.73 230.50,151.59 230.75,150.44 231.00,149.41 231.25,148.62 231.50,148.16 231.75,148.11 232.00,148.45 232.25,149.14 232.50,150.13 232.75,151.32 233.00,152.60 233.25,153.84 233.50,154.90 233.75,155.67 234.00,156.04 234.25,155.98 234.50,155.47 234.75,154.58 235.00,153.41 235.25,152.10 235.50,150.82 235.75,149.69 236.00,148.85 236.25,148.37 236.50,148.30 236.75,148.69 237.00,149.49 237.25,150.59 237.50,151.80 237.75,152.96 238.00,153.94 238.25,154.64 238.50,155.00 238.75,155.01 239.00,154.66 239.25,153.97 239.50,153.00 239.75,151.84 240.00,150.64 240.25,149.57 240.50,148.81 240.75,148.50 241.00,148.68 241.25,149.31 241.50,150.30 241.75,151.56 242.00,152.90 242.25,153.17 242.50,153.19 242.75,152.80 243.00,151.87 243.25,150.35 243.50,148.33 243.75,146.00 244.00,143.62 244.25,141.37 244.50,139.41 244.75,137.80 245.00,136.56 245.25,135.71 245.50,135.26 245.75,135.18 246.00,135.45 246.25,136.75 246.50,138.03 246.75,139.08 247.00,139.66 247.25,139.62 247.50,138.95 247.75,137.75 248.00,136.18 248.25,134.42 248.50,132.70 248.75,131.18 249.00,130.00 249.25,129.23 249.50,128.92 249.75,129.08 250.00,129.68 250.25,130.65 250.50,131.87 250.75,133.21 251.00,134.49 251.25,135.54 251.50,136.20 251.75,136.37 252.00,136.00 252.25,135.13 252.50,133.84 252.75,132.21 253.00,130.41 253.25,128.60 253.50,126.95 253.75,125.61 254.00,124.73 254.25,124.37 254.50,124.56 254.75,125.27 255.00,126.39 255.25,127.80 255.50,129.33 255.75,130.80 256.00,132.04 256.25,132.87 256.50,133.20 256.75,132.95 257.00,132.11 257.25,130.75 257.50,129.01 257.75,127.06 258.00,125.10 258.25,122.89 258.50,121.04 258.75,119.67 259.00,118.88 259.25,118.69 259.50,119.08 259.75,119.93 260.00,121.10 260.25,122.36 260.50,123.49 260.75,124.27 261.00,124.51 261.25,124.09 261.50,122.94 261.75,121.13 262.00,118.82 262.25,116.92 262.50,115.06 262.75,113.48 263.00,112.34 263.25,111.74 263.50,111.72 263.75,112.29 264.00,113.40 264.25,114.96 264.50,116.80 264.75,118.69 265.00,120.37 265.25,121.59 265.50,122.14 265.75,121.93 266.00,121.00 266.25,119.50 266.50,117.69 266.75,115.83 267.00,114.17 267.25,112.88 267.50,112.08 267.75,111.82 268.00,112.10 268.25,112.89 268.50,114.15 268.75,115.75 269.00,117.53 269.25,119.28 269.50,120.76 269.75,121.76 270.00,122.13 270.25,121.84 270.50,120.96 270.75,119.59 271.00,117.88 271.25,116.03 271.50,114.23 271.75,112.69 272.00,111.57 272.25,110.98 272.50,110.99 272.75,111.56 273.00,112.64 273.25,114.13 273.50,115.90 273.75,117.79 274.00,119.60 274.25,121.13 274.50,122.22 274.75,122.74 275.00,122.63 275.25,121.90 275.50,120.63 275.75,119.00 276.00,117.19 276.25,115.40 276.50,113.80 276.75,112.52 277.00,111.66 277.25,111.25 277.50,111.34 277.75,111.97 278.00,113.07 278.25,114.49 278.50,116.07 278.75,117.62 279.00,119.00 279.25,120.08 279.50,120.80 279.75,121.10 280.00,120.97 280.25,120.43 280.50,119.49 280.75,118.17 281.00,116.58 281.25,114.87 281.50,113.23 281.75,111.90 282.00,111.09 282.25,110.96 282.50,111.53 282.75,112.71 283.00,114.33 283.25,116.17 283.50,117.98 283.75,119.56 284.00,120.73 284.25,119.29 284.50,117.28 284.75,114.67 285.00,111.43 285.25,107.57 285.50,103.19 285.75,98.50 286.00,93.85 286.25,92.06 286.50,91.16 286.75,91.35 287.00,92.57 287.25,94.61 287.50,97.13 287.75,99.75 288.00,102.10 288.25,103.89 288.50,104.96 288.75,105.20 289.00,104.58 289.25,103.14 289.50,101.10 289.75,98.73 290.00,96.35 290.25,94.29 290.50,92.81 290.75,92.12 291.00,92.28 291.25,93.22 291.50,94.86 291.75,97.09 292.00,99.67 292.25,102.29 292.50,104.56 292.75,106.10 293.00,106.64 293.25,106.09 293.50,104.57 293.75,102.35 294.00,99.79 294.25,97.26 294.50,95.06 294.75,93.40 295.00,92.38 295.25,92.05 295.50,92.44 295.75,93.54 296.00,95.21 296.25,97.26 296.50,99.44 296.75,101.51 297.00,103.25 297.25,104.48 297.50,105.07 297.75,104.96 298.00,104.18 298.25,102.80 298.50,100.98 298.75,98.91 299.00,96.82 299.25,94.92 299.50,93.42 299.75,92.47 300.00,92.17 300.25,92.55 300.50,93.57 300.75,95.12 301.00,97.07 301.25,97.80 301.50,98.41 301.75,98.69 302.00,98.46 302.25,97.58 302.50,96.02 302.75,93.78 303.00,91.02 303.25,87.94 303.50,84.77 303.75,81.75 304.00,79.02 304.25,78.00 304.50,77.38 304.75,77.22 305.00,77.52 305.25,78.27 305.50,79.42 305.75,80.89 306.00,82.54 306.25,84.17 306.50,85.52 306.75,86.37 307.00,86.56 307.25,86.10 307.50,85.05 307.75,83.50 308.00,81.58 308.25,79.52 308.50,77.59 308.75,76.07 309.00,75.21 309.25,75.17 309.50,75.94 309.75,77.39 310.00,79.29 310.25,81.34 310.50,83.25 310.75,84.79 311.00,85.80 311.25,86.18 311.50,85.91 311.75,84.99 312.00,83.54 312.25,81.70 312.50,79.71 312.75,77.81 313.00,76.27 313.25,75.29 313.50,75.02 313.75,75.46 314.00,76.53 314.25,78.12 314.50,80.04 314.75,82.06 315.00,83.94 315.25,85.42 315.50,86.32 315.75,86.50 316.00,85.96 316.25,84.78 316.50,83.11 316.75,81.15 317.00,79.14 317.25,77.28 317.50,75.78 317.75,74.78 318.00,74.37 318.25,74.57 318.50,75.37 318.75,76.67 319.00,78.31 319.25,80.12 319.50,81.89 319.75,83.46 320.00,84.67 320.25,85.42 320.50,85.63 320.75,85.29 321.00,84.44 321.25,83.15 321.50,81.53 321.75,79.75 322.00,77.97 322.25,76.35 322.50,75.06 322.75,74.22 323.00,73.92 323.25,74.18 323.50,74.98 323.75,76.23 324.00,77.82 324.25,79.59 324.50,81.37 324.75,82.97 325.00,84.24 325.25,85.04 325.50,85.28 325.75,84.91 326.00,83.93 326.25,82.49 326.50,80.77 326.75,79.00 327.00,77.39 327.25,75.03 327.50,73.06 327.75,71.52 328.00,70.45 328.25,69.88 328.50,69.80 328.75,70.14 329.00,70.77 329.25,71.52 329.50,72.18 329.75,72.50 330.00,72.29 330.25,72.41 330.50,71.83 330.75,70.62 331.00,68.95 331.25,67.04 331.50,65.15 331.75,63.51 332.00,62.32 332.25,61.71 332.50,61.78 332.75,62.52 333.00,63.84 333.25,65.57 333.50,67.45 333.75,69.24 334.00,70.70 334.25,71.65 334.50,71.96 334.75,71.62 335.00,70.68 335.25,69.21 335.50,67.37 335.75,65.38 336.00,63.52 336.25,62.07 336.50,61.26 336.75,61.24 337.00,61.99 337.25,63.39 337.50,65.22 337.75,67.19 338.00,69.06 338.25,70.58 338.50,71.62 338.75,72.07 339.00,71.91 339.25,71.16 339.50,69.89 339.75,68.22 340.00,66.33 340.25,64.44 340.50,62.79 340.75,61.61 341.00,61.07 341.25,61.24 341.50,62.06 341.75,63.43 342.00,65.18 342.25,67.11 342.50,69.01 342.75,70.66 343.00,71.88 343.25,72.56 343.50,72.62 343.75,72.03 344.00,70.86 344.25,68.12 344.50,65.35 344.75,62.74 345.00,60.45 345.25,58.55 345.50,57.06 345.75,55.94 346.00,55.16 346.25,54.67 346.50,54.38 346.75,54.21 347.00,54.06 347.25,54.97 347.50,55.81 347.75,56.48 348.00,56.88 348.25,56.95 348.50,56.69 348.75,56.13 349.00,55.33 349.25,54.39 349.50,53.42 349.75,52.51 350.00,51.78 350.25,51.30 350.50,51.14 350.75,51.31 351.00,51.78 351.25,52.53 351.50,53.49 351.75,54.56 352.00,55.61 352.25,56.50 352.50,57.09 352.75,57.28 353.00,57.02 353.25,56.36 353.50,55.41 353.75,54.34 354.00,53.31 354.25,52.46 354.50,51.87 354.75,51.55 355.00,51.53 355.25,51.82 355.50,52.40 355.75,53.20 356.00,54.12 356.25,55.05 356.50,55.84 356.75,56.40 357.00,56.63 357.25,56.52 357.50,56.09 357.75,55.39 358.00,54.47 358.25,53.44 358.50,52.45 358.75,51.63 359.00,51.12 359.25,51.01 359.50,51.30 359.75,51.94 360.00,52.84 360.25,53.87 360.50,54.90 360.75,55.81 361.00,56.48 361.25,56.85 361.50,56.89 361.75,56.60 362.00,56.01 362.25,55.14 362.50,53.79 362.75,52.06 363.00,50.11 363.25,48.20 363.50,51.60 363.75,57.21 364.00,63.57 364.25,70.21 364.50,76.56 364.75,70.97 365.00,66.43 365.25,63.00 365.50,60.45 365.75,59.10 366.00,60.24 366.25,60.28 366.50,59.33 366.75,57.48 367.00,54.94 367.25,52.00 367.50,48.96 367.75,46.10 368.00,43.70 368.25,41.96 368.50,41.02 368.75,40.95 369.00,41.68 369.25,43.17 369.50,45.41 369.75,48.31 370.00,51.69 370.25,55.24 370.50,58.55 370.75,61.16 371.00,62.66 371.25,62.82 371.50,61.59 371.75,59.15 372.00,55.85 372.25,52.17 372.50,48.56 372.75,45.42 373.00,42.98 373.25,41.40 373.50,40.71 373.75,40.95 374.00,42.23 374.25,44.42 374.50,47.27 374.75,50.45 375.00,53.58 375.25,56.32 375.50,58.34 375.75,59.44 376.00,59.47 376.25,58.43 376.50,56.41 376.75,53.61 377.00,50.35 377.25,47.00 377.50,44.00 377.75,41.77 378.00,40.63 378.25,40.76 378.50,42.11 378.75,44.54 379.00,47.74 379.25,51.31 379.50,54.80 379.75,57.72 380.00,59.69 380.25,60.41 380.50,59.78 380.75,57.89 381.00,55.00 381.25,51.54 381.50,47.99 381.75,44.81 382.00,42.39 382.25,41.01 382.50,40.83 382.75,41.82 383.00,43.88 383.25,46.82 383.50,50.33 383.75,54.00 384.00,57.33 384.25,58.87 384.50,58.96 384.75,57.81 385.00,55.90 385.25,53.66 385.50,51.50 385.75,49.79 386.00,48.80 386.25,47.91 386.50,47.25 386.75,46.89 387.00,46.91 387.25,47.30 387.50,48.00 387.75,48.87 388.00,49.79 388.25,50.62 388.50,51.29 388.75,51.76 389.00,52.02 389.25,52.08 389.50,51.92 389.75,51.56 390.00,51.02 390.25,48.88 390.50,46.53 390.75,44.07 391.00,41.60 391.25,40.94 391.50,40.61 391.75,40.64 392.00,41.00 392.25,41.67 392.50,42.59 392.75,43.67 393.00,44.82 393.25,45.91 393.50,46.80 393.75,47.38 394.00,47.57 394.25,47.35 394.50,46.77 394.75,45.85 395.00,44.70 395.25,43.43 395.50,42.17 395.75,41.08 396.00,40.30 396.25,39.95 396.50,40.07 396.75,40.64 397.00,41.61 397.25,42.86 397.50,44.27 397.75,45.65 398.00,46.83 398.25,47.66 398.50,48.01 398.75,47.82 399.00,47.07 399.25,45.92 399.50,44.58 399.75,43.29 400.00,42.22 400.25,41.46 400.50,41.04 400.75,40.95 401.00,41.21 401.25,42.08 401.50,43.77 401.75,46.36 402.00,49.75 402.25,53.59 402.50,57.31 402.75,60.23 403.00,61.78 403.25,60.06 403.50,57.09 403.75,53.16 404.00,48.74 404.25,44.40 404.50,40.81 404.75,38.54 405.00,37.96 405.25,39.24 405.50,42.15 405.75,46.06 406.00,50.23 406.25,54.00 406.50,56.96 406.75,58.92 407.00,59.88 407.25,59.90 407.50,58.94 407.75,57.05 408.00,54.32 408.25,50.97 408.50,47.35 408.75,43.92 409.00,41.18 409.25,39.55 409.50,39.30 409.75,40.44 410.00,42.75 410.25,45.89 410.50,49.40 410.75,52.87 411.00,55.92 411.25,58.30 411.50,59.85 411.75,60.52 412.00,60.28 412.25,59.19 412.50,57.29 412.75,54.65 413.00,51.44 413.25,47.92 413.50,44.46 413.75,41.49 414.00,39.38 414.25,38.46 414.50,38.82 414.75,40.31 415.00,42.82 415.25,46.13 415.50,49.94 415.75,53.92 416.00,57.66 416.25,60.78 416.50,62.94 416.75,63.89 417.00,63.49 417.25,61.77 417.50,58.92 417.75,55.30 418.00,51.35 418.25,47.51 418.50,44.15 418.75,41.57 419.00,39.97 419.25,39.45 419.50,40.14 419.75,42.08 420.00,44.96 420.25,48.37 420.50,51.84 420.75,54.95 421.00,57.41 421.25,59.04 421.50,59.77 421.75,59.56 422.00,58.33 422.25,56.20 422.50,53.40 422.75,50.24 423.00,47.12 423.25,44.41 423.50,42.48 423.75,41.59 424.00,41.85 424.25,43.17 424.50,45.47 424.75,48.55 425.00,52.10 425.25,55.69 425.50,58.78 425.75,60.87 426.00,61.61 426.25,60.93 426.50,59.01 426.75,55.99 427.00,52.13 427.25,47.87 427.50,43.77 427.75,40.45 428.00,38.47 428.25,38.18 428.50,39.65 428.75,42.60 429.00,46.48 429.25,50.64 429.50,54.48 429.75,57.57 430.00,59.68 430.25,60.71 430.50,60.66 430.75,59.51 431.00,57.35 431.25,54.33 431.50,50.71 431.75,46.91 432.00,43.39 432.25,41.30 432.50,40.58 432.75,41.22 433.00,42.98 433.25,45.49 433.50,48.32 433.75,51.05 434.00,53.36 434.25,55.46 434.50,57.16 434.75,58.31 435.00,58.83 435.25,58.70 435.50,57.90 435.75,56.55 436.00,54.85 436.25,52.98 436.50,51.19 436.75,49.67 437.00,48.58 437.25,48.05 437.50,48.15 437.75,48.85 438.00,50.15 438.25,51.97 438.50,54.22 438.75,56.71 439.00,59.22 439.25,61.44 439.50,63.10 439.75,63.97 440.00,63.93 440.25,63.08 440.50,61.51 440.75,59.48 441.00,57.30 441.25,55.26 441.50,53.61 441.75,52.52 442.00,52.11 442.25,52.42 442.50,53.49 442.75,55.27 443.00,57.59 443.25,60.23 443.50,62.91 443.75,65.34 444.00,67.23 444.25,68.38 444.50,68.66 444.75,68.11 445.00,66.81 445.25,64.87 445.50,62.53 445.75,60.10 446.00,57.99 446.25,56.32 446.50,55.66 446.75,56.16 447.00,57.72 447.25,60.10 447.50,62.92 447.75,65.77 448.00,68.27 448.25,70.12 448.50,71.12 448.75,71.17 449.00,70.28 449.25,68.54 449.50,66.14 449.75,63.35 450.00,60.56 450.25,58.18 450.50,56.59 450.75,56.06 451.00,56.68 451.25,58.33 451.50,60.75 451.75,63.56 452.00,66.36 452.25,68.80 452.50,70.60 452.75,71.61 453.00,71.72 453.25,70.90 453.50,69.25 453.75,67.07 454.00,64.68 454.25,62.40 454.50,60.50 454.75,59.15 455.00,58.44 455.25,58.41 455.50,59.05 455.75,60.31 456.00,62.08 456.25,64.20 456.50,66.47 456.75,68.62 457.00,70.41 457.25,71.61 457.50,72.07 457.75,71.78 458.00,70.83 458.25,69.27 458.50,67.23 458.75,64.87 459.00,62.42 459.25,60.13 459.50,58.29 459.75,57.13 460.00,56.81 460.25,57.37 460.50,58.73 460.75,60.72 461.00,63.11 461.25,65.65 461.50,68.07 461.75,70.15 462.00,71.73 462.25,72.69 462.50,72.96 462.75,72.53 463.00,71.44 463.25,71.19 463.50,70.77 463.75,70.44 464.00,70.43 464.25,70.94 464.50,72.09 464.75,73.90 465.00,76.24 465.25,76.64 465.50,77.40 465.75,78.41 466.00,79.50 466.25,80.51 466.50,81.35 466.75,81.96 467.00,82.32 467.25,82.46 467.50,82.36 467.75,82.01 468.00,81.43 468.25,80.67 468.50,79.80 468.75,78.93 469.00,78.17 469.25,77.66 469.50,77.48 469.75,77.65 470.00,78.14 470.25,78.91 470.50,79.91 470.75,81.04 471.00,82.15 471.25,83.08 471.50,83.70 471.75,83.88 472.00,83.62 472.25,82.97 472.50,82.02 472.75,80.90 473.00,79.76 473.25,78.76 473.50,78.01 473.75,77.62 474.00,77.62 474.25,78.04 474.50,78.81 474.75,79.83 475.00,80.97 475.25,82.09 475.50,83.04 475.75,83.74 476.00,84.10 476.25,84.09 476.50,83.73 476.75,83.06 477.00,82.16 477.25,81.13 477.50,80.09 477.75,79.18 478.00,78.51 478.25,78.15 478.50,78.16 478.75,78.52 479.00,79.19 479.25,80.10 479.50,81.18 479.75,82.31 480.00,83.37 480.25,84.24 480.50,84.82 480.75,85.05 481.00,84.90 481.25,84.55 481.50,83.91 481.75,83.07 482.00,82.15 482.25,81.26 482.50,80.50 482.75,79.98 483.00,79.74 483.25,79.83 483.50,80.26 483.75,81.03 484.00,82.05 484.25,83.24 484.50,84.50 484.75,85.69 485.00,86.73 485.25,87.53 485.50,88.01 485.75,88.16 486.00,87.95 486.25,87.43 486.50,86.65 486.75,85.73 487.00,84.78 487.25,83.92 487.50,83.27 487.75,82.94 488.00,82.99 488.25,83.44 488.50,84.26 488.75,85.39 489.00,86.74 489.25,89.49 489.50,92.15 489.75,94.58 490.00,96.65 490.25,98.27 490.50,99.41 490.75,100.11 491.00,100.50 491.25,99.26 491.50,98.06 491.75,97.04 492.00,96.32 492.25,95.98 492.50,96.02 492.75,96.47 493.00,97.28 493.25,98.38 493.50,99.65 493.75,100.92 494.00,101.99 494.25,102.69 494.50,102.89 494.75,102.56 495.00,101.77 495.25,100.63 495.50,99.30 495.75,97.98 496.00,96.85 496.25,96.06 496.50,95.71 496.75,95.85 497.00,96.44 497.25,97.42 497.50,98.67 497.75,100.04 498.00,101.33 498.25,102.38 498.50,103.03 498.75,103.19 499.00,102.84 499.25,102.04 499.50,100.91 499.75,99.64 500.00,98.40 500.25,97.33 500.50,96.55 500.75,96.12 501.00,96.06 501.25,96.43 501.50,97.15 501.75,98.13 502.00,99.21 502.25,100.24 502.50,101.13 502.75,101.79 503.00,102.20 503.25,102.33 503.50,102.20 503.75,101.81 504.00,101.18 504.25,101.73 504.50,102.00 504.75,102.08 505.00,102.10 505.25,102.25 505.50,102.73 505.75,103.70 506.00,105.22 506.25,107.28 506.50,109.90 506.75,113.00 507.00,116.47 507.25,118.66 507.50,120.61 507.75,122.09 508.00,122.93 508.25,123.01 508.50,122.33 508.75,120.97 509.00,119.09 509.25,116.89 509.50,114.63 509.75,112.53 510.00,110.81 510.25,109.61 510.50,109.04 510.75,109.17 511.00,110.01 511.25,111.48 511.50,113.42 511.75,115.65 512.00,117.91 512.25,119.95 512.50,121.54 512.75,122.51 513.00,122.72 513.25,122.12 513.50,120.79 513.75,118.90 514.00,116.70 514.25,114.48 514.50,112.50 514.75,110.98 515.00,110.07 515.25,109.86 515.50,110.40 515.75,111.64 516.00,113.43 516.25,115.54 516.50,117.72 516.75,119.68 517.00,121.18 517.25,122.04 517.50,122.15 517.75,121.53 518.00,120.24 518.25,118.39 518.50,116.16 518.75,113.82 519.00,111.69 519.25,110.08 519.50,109.27 519.75,109.39 520.00,110.46 520.25,112.26 520.50,114.46 520.75,116.71 521.00,118.71 521.25,120.25 521.50,121.24 521.75,121.66 522.00,121.54 522.25,120.87 522.50,119.68 522.75,117.99 523.00,115.91 523.25,113.67 523.50,111.57 523.75,109.96 524.00,109.11 524.25,109.17 524.50,110.05 524.75,111.64 525.00,113.74 525.25,116.14 525.50,118.56 525.75,120.75 526.00,122.48 526.25,123.58 526.50,123.92 526.75,123.50 527.00,122.37 527.25,120.63 527.50,118.46 527.75,116.09 528.00,113.74 528.25,111.07 528.50,109.35 528.75,108.46 529.00,108.16 529.25,108.14 529.50,108.03 529.75,112.74 530.00,117.48 530.25,122.21 530.50,126.90 530.75,131.54 531.00,136.11"/>
<line x1="192" y1="42" x2="200" y2="50.2" stroke="#1a1a1a" stroke-width="1.7"/>
<g stroke="#333" stroke-width="1.2" fill="none"><polyline points="41.5,26 41.5,210 531.0,210 531.0,205"/><line x1="41.5" y1="71.5" x2="46.5" y2="71.5"/><line x1="41.5" y1="117.5" x2="46.5" y2="117.5"/><line x1="41.5" y1="163.5" x2="46.5" y2="163.5"/><line x1="139.40" y1="205" x2="139.40" y2="210"/><line x1="237.30" y1="205" x2="237.30" y2="210"/><line x1="335.20" y1="205" x2="335.20" y2="210"/><line x1="433.10" y1="205" x2="433.10" y2="210"/></g>
<g font-family="Liberation Serif, serif" font-size="16.5" fill="#222">
<text x="36.6" y="32.3" text-anchor="end" font-size="17">20</text>
<text x="36.6" y="77" text-anchor="end" font-size="17">10</text>
<text x="36.6" y="122.8" text-anchor="end" font-size="17">0</text>
<text x="36.6" y="167.6" text-anchor="end" font-size="17">-10</text>
<text x="36.6" y="211.8" text-anchor="end" font-size="17">-20</text>
<text x="42" y="229.5">2</text>
<text x="139.40" y="229.5" text-anchor="middle">2.004</text>
<text x="237.30" y="229.5" text-anchor="middle">2.008</text>
<text x="335.20" y="229.5" text-anchor="middle">2.012</text>
<text x="433.10" y="229.5" text-anchor="middle">2.016</text>
<text x="512" y="228.5"><tspan font-style="italic">t</tspan>, s</text>
<text x="43.5" y="23.5" font-size="17"><tspan font-style="italic">U</tspan><tspan font-size="11.5" dy="1.3">grid</tspan><tspan dy="-1.3">,</tspan><tspan dx="0" font-size="18">kV</tspan></text>
</g>
<g stroke="#858585" stroke-width="1" stroke-dasharray="1 3" fill="none"><line x1="25.3" y1="418.20" x2="538.4" y2="418.20"/><line x1="25.3" y1="409.20" x2="538.4" y2="409.20"/><line x1="25.3" y1="400.20" x2="538.4" y2="400.20"/><line x1="25.3" y1="382.20" x2="538.4" y2="382.20"/><line x1="25.3" y1="373.20" x2="538.4" y2="373.20"/><line x1="25.3" y1="364.20" x2="538.4" y2="364.20"/><line x1="25.3" y1="346.20" x2="538.4" y2="346.20"/><line x1="25.3" y1="337.20" x2="538.4" y2="337.20"/><line x1="25.3" y1="328.20" x2="538.4" y2="328.20"/><line x1="25.3" y1="310.20" x2="538.4" y2="310.20"/><line x1="25.3" y1="301.20" x2="538.4" y2="301.20"/><line x1="25.3" y1="292.20" x2="538.4" y2="292.20"/><line x1="25.3" y1="274.20" x2="538.4" y2="274.20"/><line x1="25.3" y1="265.20" x2="538.4" y2="265.20"/><line x1="25.3" y1="256.20" x2="538.4" y2="256.20"/><line x1="38.13" y1="427.2" x2="38.13" y2="245.2"/><line x1="50.95" y1="427.2" x2="50.95" y2="245.2"/><line x1="63.78" y1="427.2" x2="63.78" y2="245.2"/><line x1="89.44" y1="427.2" x2="89.44" y2="245.2"/><line x1="102.27" y1="427.2" x2="102.27" y2="245.2"/><line x1="115.09" y1="427.2" x2="115.09" y2="245.2"/><line x1="140.75" y1="427.2" x2="140.75" y2="245.2"/><line x1="153.58" y1="427.2" x2="153.58" y2="245.2"/><line x1="166.40" y1="427.2" x2="166.40" y2="245.2"/><line x1="192.06" y1="427.2" x2="192.06" y2="245.2"/><line x1="204.89" y1="427.2" x2="204.89" y2="245.2"/><line x1="217.71" y1="427.2" x2="217.71" y2="245.2"/><line x1="243.37" y1="427.2" x2="243.37" y2="245.2"/><line x1="256.19" y1="427.2" x2="256.19" y2="245.2"/><line x1="269.02" y1="427.2" x2="269.02" y2="245.2"/><line x1="294.68" y1="427.2" x2="294.68" y2="245.2"/><line x1="307.50" y1="427.2" x2="307.50" y2="245.2"/><line x1="320.33" y1="427.2" x2="320.33" y2="245.2"/><line x1="345.99" y1="427.2" x2="345.99" y2="245.2"/><line x1="358.81" y1="427.2" x2="358.81" y2="245.2"/><line x1="371.64" y1="427.2" x2="371.64" y2="245.2"/><line x1="397.30" y1="427.2" x2="397.30" y2="245.2"/><line x1="410.12" y1="427.2" x2="410.12" y2="245.2"/><line x1="422.95" y1="427.2" x2="422.95" y2="245.2"/><line x1="448.61" y1="427.2" x2="448.61" y2="245.2"/><line x1="461.44" y1="427.2" x2="461.44" y2="245.2"/><line x1="474.26" y1="427.2" x2="474.26" y2="245.2"/><line x1="499.92" y1="427.2" x2="499.92" y2="245.2"/><line x1="512.75" y1="427.2" x2="512.75" y2="245.2"/><line x1="525.57" y1="427.2" x2="525.57" y2="245.2"/></g>
<g stroke="#8c8c8c" stroke-width="1.1" fill="none"><line x1="25.3" y1="391.20" x2="538.4" y2="391.20"/><line x1="25.3" y1="355.20" x2="538.4" y2="355.20"/><line x1="25.3" y1="319.20" x2="538.4" y2="319.20"/><line x1="25.3" y1="283.20" x2="538.4" y2="283.20"/><line x1="76.61" y1="427.2" x2="76.61" y2="245.2"/><line x1="127.92" y1="427.2" x2="127.92" y2="245.2"/><line x1="179.23" y1="427.2" x2="179.23" y2="245.2"/><line x1="230.54" y1="427.2" x2="230.54" y2="245.2"/><line x1="281.85" y1="427.2" x2="281.85" y2="245.2"/><line x1="333.16" y1="427.2" x2="333.16" y2="245.2"/><line x1="384.47" y1="427.2" x2="384.47" y2="245.2"/><line x1="435.78" y1="427.2" x2="435.78" y2="245.2"/><line x1="487.09" y1="427.2" x2="487.09" y2="245.2"/></g>
<g stroke="#1f78c8" stroke-width="1.7"><line x1="27.87" y1="427.2" x2="27.87" y2="245.20"/><line x1="33.00" y1="427.2" x2="33.00" y2="423.60"/><line x1="38.13" y1="427.2" x2="38.13" y2="423.00"/><line x1="43.26" y1="427.2" x2="43.26" y2="426.00"/><line x1="48.39" y1="427.2" x2="48.39" y2="426.00"/><line x1="53.52" y1="427.2" x2="53.52" y2="381.24"/><line x1="58.65" y1="427.2" x2="58.65" y2="423.84"/><line x1="63.78" y1="427.2" x2="63.78" y2="426.00"/><line x1="68.91" y1="427.2" x2="68.91" y2="404.16"/><line x1="74.04" y1="427.2" x2="74.04" y2="410.76"/><line x1="79.18" y1="427.2" x2="79.18" y2="426.00"/><line x1="84.31" y1="427.2" x2="84.31" y2="361.56"/><line x1="89.44" y1="427.2" x2="89.44" y2="415.20"/><line x1="94.57" y1="427.2" x2="94.57" y2="423.60"/><line x1="99.70" y1="427.2" x2="99.70" y2="411.84"/><line x1="104.83" y1="427.2" x2="104.83" y2="414.00"/><line x1="109.96" y1="427.2" x2="109.96" y2="424.80"/><line x1="115.09" y1="427.2" x2="115.09" y2="398.40"/><line x1="120.22" y1="427.2" x2="120.22" y2="391.56"/><line x1="125.35" y1="427.2" x2="125.35" y2="426.00"/><line x1="130.49" y1="427.2" x2="130.49" y2="424.56"/><line x1="135.62" y1="427.2" x2="135.62" y2="425.40"/><line x1="140.75" y1="427.2" x2="140.75" y2="426.00"/><line x1="145.88" y1="427.2" x2="145.88" y2="419.40"/><line x1="151.01" y1="427.2" x2="151.01" y2="399.84"/><line x1="156.14" y1="427.2" x2="156.14" y2="423.84"/><line x1="161.27" y1="427.2" x2="161.27" y2="420.96"/><line x1="166.40" y1="427.2" x2="166.40" y2="422.40"/><line x1="171.53" y1="427.2" x2="171.53" y2="426.00"/><line x1="176.66" y1="427.2" x2="176.66" y2="409.56"/><line x1="181.80" y1="427.2" x2="181.80" y2="419.40"/><line x1="186.93" y1="427.2" x2="186.93" y2="426.00"/><line x1="192.06" y1="427.2" x2="192.06" y2="422.76"/><line x1="197.19" y1="427.2" x2="197.19" y2="419.40"/><line x1="202.32" y1="427.2" x2="202.32" y2="424.80"/><line x1="207.45" y1="427.2" x2="207.45" y2="421.56"/><line x1="212.58" y1="427.2" x2="212.58" y2="413.28"/><line x1="217.71" y1="427.2" x2="217.71" y2="424.80"/><line x1="222.84" y1="427.2" x2="222.84" y2="419.40"/><line x1="227.97" y1="427.2" x2="227.97" y2="422.40"/><line x1="233.11" y1="427.2" x2="233.11" y2="426.00"/><line x1="238.24" y1="427.2" x2="238.24" y2="404.76"/><line x1="243.37" y1="427.2" x2="243.37" y2="420.96"/><line x1="248.50" y1="427.2" x2="248.50" y2="421.56"/><line x1="253.63" y1="427.2" x2="253.63" y2="420.96"/><line x1="258.76" y1="427.2" x2="258.76" y2="418.32"/><line x1="263.89" y1="427.2" x2="263.89" y2="423.84"/><line x1="269.02" y1="427.2" x2="269.02" y2="412.20"/><line x1="271.59" y1="427.2" x2="271.59" y2="423.60"/><line x1="274.15" y1="427.2" x2="274.15" y2="393.96"/><line x1="279.28" y1="427.2" x2="279.28" y2="417.24"/><line x1="284.42" y1="427.2" x2="284.42" y2="399.84"/><line x1="286.98" y1="427.2" x2="286.98" y2="424.80"/><line x1="289.55" y1="427.2" x2="289.55" y2="410.76"/><line x1="294.68" y1="427.2" x2="294.68" y2="422.40"/><line x1="297.24" y1="427.2" x2="297.24" y2="422.40"/><line x1="299.81" y1="427.2" x2="299.81" y2="295.44"/><line x1="302.37" y1="427.2" x2="302.37" y2="416.40"/><line x1="304.94" y1="427.2" x2="304.94" y2="381.24"/><line x1="307.50" y1="427.2" x2="307.50" y2="420.60"/><line x1="310.07" y1="427.2" x2="310.07" y2="408.48"/><line x1="312.64" y1="427.2" x2="312.64" y2="421.56"/><line x1="315.20" y1="427.2" x2="315.20" y2="408.48"/><line x1="317.77" y1="427.2" x2="317.77" y2="421.20"/><line x1="320.33" y1="427.2" x2="320.33" y2="417.24"/><line x1="322.90" y1="427.2" x2="322.90" y2="423.60"/><line x1="325.46" y1="427.2" x2="325.46" y2="418.32"/><line x1="330.59" y1="427.2" x2="330.59" y2="405.72"/><line x1="333.16" y1="427.2" x2="333.16" y2="421.20"/><line x1="335.73" y1="427.2" x2="335.73" y2="413.52"/><line x1="338.29" y1="427.2" x2="338.29" y2="422.40"/><line x1="340.86" y1="427.2" x2="340.86" y2="422.40"/><line x1="345.99" y1="427.2" x2="345.99" y2="418.32"/><line x1="351.12" y1="427.2" x2="351.12" y2="426.00"/><line x1="356.25" y1="427.2" x2="356.25" y2="423.84"/><line x1="361.38" y1="427.2" x2="361.38" y2="423.24"/><line x1="366.51" y1="427.2" x2="366.51" y2="417.84"/><line x1="376.77" y1="427.2" x2="376.77" y2="422.40"/><line x1="381.90" y1="427.2" x2="381.90" y2="423.84"/><line x1="387.04" y1="427.2" x2="387.04" y2="424.80"/><line x1="392.17" y1="427.2" x2="392.17" y2="422.76"/><line x1="397.30" y1="427.2" x2="397.30" y2="422.40"/><line x1="407.56" y1="427.2" x2="407.56" y2="421.56"/><line x1="412.69" y1="427.2" x2="412.69" y2="424.80"/><line x1="422.95" y1="427.2" x2="422.95" y2="422.40"/><line x1="428.08" y1="427.2" x2="428.08" y2="421.56"/><line x1="438.35" y1="427.2" x2="438.35" y2="425.40"/><line x1="446.04" y1="427.2" x2="446.04" y2="425.40"/><line x1="453.74" y1="427.2" x2="453.74" y2="423.00"/><line x1="458.87" y1="427.2" x2="458.87" y2="423.60"/><line x1="464.00" y1="427.2" x2="464.00" y2="425.40"/><line x1="469.13" y1="427.2" x2="469.13" y2="425.40"/><line x1="474.26" y1="427.2" x2="474.26" y2="426.00"/><line x1="489.66" y1="427.2" x2="489.66" y2="426.00"/><line x1="499.92" y1="427.2" x2="499.92" y2="426.00"/><line x1="510.18" y1="427.2" x2="510.18" y2="426.00"/><line x1="515.31" y1="427.2" x2="515.31" y2="426.00"/><line x1="520.44" y1="427.2" x2="520.44" y2="424.80"/><line x1="525.57" y1="427.2" x2="525.57" y2="426.00"/><line x1="530.70" y1="427.2" x2="530.70" y2="426.00"/></g>
<line x1="25.3" y1="426.2" x2="538.4" y2="426.2" stroke="#1f78c8" stroke-width="1"/>
<line x1="25.3" y1="427.2" x2="538.4" y2="427.2" stroke="#2a2a2a" stroke-width="1.3"/>
<g stroke="#555" stroke-width="1.1" fill="none"><polyline points="81,245.2 538.4,245.2 538.4,427.2 "/><polyline points="25.3,427.2 25.3,263.5"/><line x1="534.4" y1="391.20" x2="538.4" y2="391.20"/><line x1="534.4" y1="283.20" x2="538.4" y2="283.20"/></g>
<rect x="0" y="236" width="81" height="27.5" fill="#fff"/>
<rect x="387.5" y="257" width="121.5" height="25" fill="#fff"/>
<g font-family="Liberation Serif, serif" fill="#222">
<text x="26.3" y="255.3" font-size="16">Mag, %</text>
<text x="398" y="274.3" font-size="15.8" font-weight="bold">THD = 15.75%</text>
<text x="21.3" y="290" font-size="16.5" text-anchor="end">12</text>
<text x="21.3" y="326" font-size="16.5" text-anchor="end">9</text>
<text x="21.3" y="362" font-size="16.5" text-anchor="end">6</text>
<text x="21.3" y="398" font-size="16.5" text-anchor="end">3</text>
<text x="21.3" y="434" font-size="16.5" text-anchor="end">0</text>
<text x="27" y="447.3" font-size="16.5" text-anchor="middle">0</text>
<text x="78.7" y="447.3" font-size="16.5" text-anchor="middle">20</text>
<text x="131.3" y="447.3" font-size="16.5" text-anchor="middle">40</text>
<text x="182.8" y="447.3" font-size="16.5" text-anchor="middle">60</text>
<text x="233.7" y="447.3" font-size="16.5" text-anchor="middle">80</text>
<text x="286.5" y="447.3" font-size="16.5" text-anchor="middle">100</text>
<text x="337.5" y="447.3" font-size="16.5" text-anchor="middle">120</text>
<text x="389" y="447.3" font-size="16.5" text-anchor="middle">140</text>
<text x="440.5" y="447.3" font-size="16.5" text-anchor="middle">160</text>
<text x="492" y="447.3" font-size="16.5" text-anchor="middle">180</text>
<text x="530.5" y="447" font-size="16" font-style="italic">n</text>
<text x="265.3" y="469.8" font-size="17.5">(<tspan font-weight="bold">b</tspan>)</text>
<g font-size="12" font-weight="bold" text-anchor="middle">
<text x="52.7" y="378.8">11</text>
<text x="65.8" y="401.5">17</text>
<text x="77.5" y="405.0">19</text>
<text x="84.2" y="359.2">23</text>
<text x="95.3" y="409.4">29</text>
<text x="107.8" y="409.4">31</text>
<text x="113.5" y="397.2">35</text>
<text x="120.4" y="384.7">37</text>
<text x="143.2" y="416.8">47</text>
<text x="151.0" y="394.5">49</text>
<text x="174.6" y="408.0">59</text>
<text x="186.3" y="411.0">61</text>
<text x="198.0" y="416.8">66</text>
<text x="212.9" y="411.6">72</text>
<text x="224.4" y="418.5">76</text>
<text x="237.5" y="405.9">83</text>
<text x="245.5" y="416.8">85</text>
<text x="258.9" y="415.3">91</text>
<text x="267.5" y="405.0">95</text>
<text x="273.5" y="391.7">97</text>
<text x="286.6" y="399.3">101</text>
<text x="293.2" y="410.3">102</text>
<text x="301.1" y="286.5">107</text>
<text x="309.6" y="379.7">109</text>
<text x="313.9" y="405.0">111</text>
<text x="333.4" y="405.0">119</text>
<text x="347.4" y="416.8">125</text>
<text x="367.6" y="416.8">133</text>
</g>
</g>
</svg>
</body></html>
